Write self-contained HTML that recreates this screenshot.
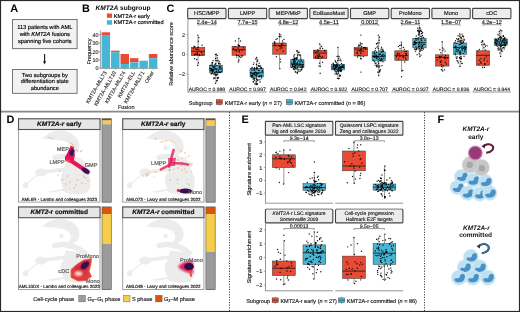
<!DOCTYPE html><html><head><meta charset="utf-8"><style>html,body{margin:0;padding:0;background:#fff;}svg{display:block;will-change:transform;filter:blur(0.25px);text-rendering:geometricPrecision;}</style></head><body>
<svg width="520" height="312" viewBox="0 0 520 312" font-family='"Liberation Sans", sans-serif'>
<defs><filter id="bl1" x="-20%" y="-20%" width="140%" height="140%"><feGaussianBlur stdDeviation="0.8"/></filter><filter id="bl2" x="-20%" y="-20%" width="140%" height="140%"><feGaussianBlur stdDeviation="1.5"/></filter><filter id="bl05" x="-20%" y="-20%" width="140%" height="140%"><feGaussianBlur stdDeviation="0.5"/></filter></defs>
<rect x="0.00" y="0.00" width="520.00" height="312.00" fill="#fff" stroke="none" stroke-width="0.5" rx="0" />
<text x="10.20" y="11.90" font-size="10.9" text-anchor="start" font-weight="bold" font-style="normal" fill="#000" >A</text>
<rect x="12.60" y="19.50" width="64.50" height="29.20" fill="#f2f2f2" stroke="#555" stroke-width="0.8" rx="0" />
<text x="44.80" y="29.00" font-size="5.7" text-anchor="middle" font-weight="normal" font-style="normal" fill="#000" stroke="#000" stroke-width="0.15" >113 patients with AML</text>
<text x="44.80" y="35.90" font-size="5.7" text-anchor="middle" font-weight="normal" font-style="normal" fill="#000" stroke="#000" stroke-width="0.15" >with <tspan font-style="italic">KMT2A</tspan> fusions</text>
<text x="44.80" y="42.80" font-size="5.7" text-anchor="middle" font-weight="normal" font-style="normal" fill="#000" stroke="#000" stroke-width="0.15" >spanning five cohorts</text>
<line x1="44.60" y1="54.00" x2="44.60" y2="62.00" stroke="#111" stroke-width="1.1" />
<path d="M43.1,61.3 L44.6,64.6 L46.1,61.3 Z" fill="#111"/>
<rect x="12.60" y="69.50" width="64.50" height="23.80" fill="#f2f2f2" stroke="#555" stroke-width="0.8" rx="0" />
<text x="44.80" y="76.60" font-size="5.7" text-anchor="middle" font-weight="normal" font-style="normal" fill="#000" stroke="#000" stroke-width="0.15" >Two subgroups by</text>
<text x="44.80" y="83.20" font-size="5.7" text-anchor="middle" font-weight="normal" font-style="normal" fill="#000" stroke="#000" stroke-width="0.15" >differentiation state</text>
<text x="44.80" y="89.90" font-size="5.7" text-anchor="middle" font-weight="normal" font-style="normal" fill="#000" stroke="#000" stroke-width="0.15" >abundance</text>
<text x="82.00" y="12.00" font-size="10.9" text-anchor="start" font-weight="bold" font-style="normal" fill="#000" >B</text>
<text x="95.60" y="10.30" font-size="6.58" text-anchor="start" font-weight="bold" font-style="normal" fill="#000" ><tspan font-style="italic">KMT2A</tspan> subgroup</text>
<rect x="106.90" y="13.50" width="5.20" height="4.30" fill="#e84a33" stroke="none" stroke-width="0.5" rx="0" />
<text x="113.70" y="17.60" font-size="5.62" text-anchor="start" font-weight="normal" font-style="normal" fill="#000" stroke="#000" stroke-width="0.15" >KMT2A-r early</text>
<rect x="106.90" y="20.20" width="5.20" height="4.50" fill="#46b6d4" stroke="none" stroke-width="0.5" rx="0" />
<text x="113.70" y="24.30" font-size="5.62" text-anchor="start" font-weight="normal" font-style="normal" fill="#000" stroke="#000" stroke-width="0.15" >KMT2A-r committed</text>
<line x1="100.40" y1="30.50" x2="100.40" y2="68.60" stroke="#777" stroke-width="0.7" />
<line x1="100.40" y1="68.40" x2="158.00" y2="68.40" stroke="#777" stroke-width="0.7" />
<line x1="99.00" y1="68.20" x2="100.40" y2="68.20" stroke="#777" stroke-width="0.6" />
<text x="98.60" y="70.20" font-size="5.5" text-anchor="end" font-weight="normal" font-style="normal" fill="#333" stroke="#333" stroke-width="0.15" >0</text>
<line x1="99.00" y1="59.85" x2="100.40" y2="59.85" stroke="#777" stroke-width="0.6" />
<text x="98.60" y="61.85" font-size="5.5" text-anchor="end" font-weight="normal" font-style="normal" fill="#333" stroke="#333" stroke-width="0.15" >10</text>
<line x1="99.00" y1="51.50" x2="100.40" y2="51.50" stroke="#777" stroke-width="0.6" />
<text x="98.60" y="53.50" font-size="5.5" text-anchor="end" font-weight="normal" font-style="normal" fill="#333" stroke="#333" stroke-width="0.15" >20</text>
<line x1="99.00" y1="43.15" x2="100.40" y2="43.15" stroke="#777" stroke-width="0.6" />
<text x="98.60" y="45.15" font-size="5.5" text-anchor="end" font-weight="normal" font-style="normal" fill="#333" stroke="#333" stroke-width="0.15" >30</text>
<line x1="99.00" y1="34.80" x2="100.40" y2="34.80" stroke="#777" stroke-width="0.6" />
<text x="98.60" y="36.80" font-size="5.5" text-anchor="end" font-weight="normal" font-style="normal" fill="#333" stroke="#333" stroke-width="0.15" >40</text>
<rect x="101.60" y="32.30" width="8.50" height="3.34" fill="#e84a33" stroke="none" stroke-width="0.5" rx="0" />
<rect x="101.60" y="35.64" width="8.50" height="32.56" fill="#46b6d4" stroke="none" stroke-width="0.5" rx="0" />
<line x1="105.85" y1="68.60" x2="105.85" y2="69.80" stroke="#777" stroke-width="0.6" />
<text x="106.85" y="72.60" font-size="5.2" text-anchor="end" font-weight="normal" font-style="normal" fill="#333" stroke="#333" stroke-width="0.15" transform="rotate(-60 106.85 72.60)">KMT2A–MLLT3</text>
<rect x="111.05" y="50.67" width="8.50" height="1.67" fill="#e84a33" stroke="none" stroke-width="0.5" rx="0" />
<rect x="111.05" y="52.34" width="8.50" height="15.86" fill="#46b6d4" stroke="none" stroke-width="0.5" rx="0" />
<line x1="115.30" y1="68.60" x2="115.30" y2="69.80" stroke="#777" stroke-width="0.6" />
<text x="116.30" y="72.60" font-size="5.2" text-anchor="end" font-weight="normal" font-style="normal" fill="#333" stroke="#333" stroke-width="0.15" transform="rotate(-60 116.30 72.60)">KMT2A–MLLT10</text>
<rect x="120.50" y="54.01" width="8.50" height="10.02" fill="#e84a33" stroke="none" stroke-width="0.5" rx="0" />
<rect x="120.50" y="64.03" width="8.50" height="4.17" fill="#46b6d4" stroke="none" stroke-width="0.5" rx="0" />
<line x1="124.75" y1="68.60" x2="124.75" y2="69.80" stroke="#777" stroke-width="0.6" />
<text x="125.75" y="72.60" font-size="5.2" text-anchor="end" font-weight="normal" font-style="normal" fill="#333" stroke="#333" stroke-width="0.15" transform="rotate(-60 125.75 72.60)">KMT2A–MLLT4</text>
<rect x="129.95" y="58.18" width="8.50" height="4.17" fill="#e84a33" stroke="none" stroke-width="0.5" rx="0" />
<rect x="129.95" y="62.36" width="8.50" height="5.84" fill="#46b6d4" stroke="none" stroke-width="0.5" rx="0" />
<line x1="134.20" y1="68.60" x2="134.20" y2="69.80" stroke="#777" stroke-width="0.6" />
<text x="135.20" y="72.60" font-size="5.2" text-anchor="end" font-weight="normal" font-style="normal" fill="#333" stroke="#333" stroke-width="0.15" transform="rotate(-60 135.20 72.60)">KMT2A–ELL</text>
<rect x="139.40" y="60.69" width="8.50" height="0.00" fill="#e84a33" stroke="none" stroke-width="0.5" rx="0" />
<rect x="139.40" y="60.69" width="8.50" height="7.51" fill="#46b6d4" stroke="none" stroke-width="0.5" rx="0" />
<line x1="143.65" y1="68.60" x2="143.65" y2="69.80" stroke="#777" stroke-width="0.6" />
<text x="144.65" y="72.60" font-size="5.2" text-anchor="end" font-weight="normal" font-style="normal" fill="#333" stroke="#333" stroke-width="0.15" transform="rotate(-60 144.65 72.60)">KMT2A–MLLT1</text>
<rect x="148.85" y="54.01" width="8.50" height="4.17" fill="#e84a33" stroke="none" stroke-width="0.5" rx="0" />
<rect x="148.85" y="58.18" width="8.50" height="10.02" fill="#46b6d4" stroke="none" stroke-width="0.5" rx="0" />
<line x1="153.10" y1="68.60" x2="153.10" y2="69.80" stroke="#777" stroke-width="0.6" />
<text x="154.10" y="72.60" font-size="5.2" text-anchor="end" font-weight="normal" font-style="normal" fill="#333" stroke="#333" stroke-width="0.15" transform="rotate(-60 154.10 72.60)">Other</text>
<text x="89.30" y="51.40" font-size="5.5" text-anchor="middle" font-weight="normal" font-style="normal" fill="#222" stroke="#222" stroke-width="0.15" transform="rotate(-90 89.3 51.4)" dy="1.9">Frequency</text>
<text x="126.20" y="109.40" font-size="5.5" text-anchor="middle" font-weight="normal" font-style="normal" fill="#222" stroke="#222" stroke-width="0.15" >Fusion</text>
<text x="166.60" y="12.00" font-size="10.9" text-anchor="start" font-weight="bold" font-style="normal" fill="#000" >C</text>
<line x1="187.90" y1="18.80" x2="187.90" y2="92.20" stroke="#888" stroke-width="0.9" />
<line x1="186.30" y1="34.60" x2="187.90" y2="34.60" stroke="#777" stroke-width="0.6" />
<text x="185.00" y="36.60" font-size="5.5" text-anchor="end" font-weight="normal" font-style="normal" fill="#333" stroke="#333" stroke-width="0.15" >2</text>
<line x1="186.30" y1="54.30" x2="187.90" y2="54.30" stroke="#777" stroke-width="0.6" />
<text x="185.00" y="56.30" font-size="5.5" text-anchor="end" font-weight="normal" font-style="normal" fill="#333" stroke="#333" stroke-width="0.15" >0</text>
<line x1="186.30" y1="74.00" x2="187.90" y2="74.00" stroke="#777" stroke-width="0.6" />
<text x="185.00" y="76.00" font-size="5.5" text-anchor="end" font-weight="normal" font-style="normal" fill="#333" stroke="#333" stroke-width="0.15" >−2</text>
<text x="171.60" y="54.00" font-size="5.5" text-anchor="middle" font-weight="normal" font-style="normal" fill="#222" stroke="#222" stroke-width="0.15" transform="rotate(-90 171.6 54.0)" dy="1.9">Relative abundance score</text>
<rect x="187.70" y="8.35" width="38.30" height="10.30" fill="#ececec" stroke="#444" stroke-width="1.1" rx="0.8" />
<text x="206.85" y="15.40" font-size="5.6" text-anchor="middle" font-weight="normal" font-style="normal" fill="#222" stroke="#222" stroke-width="0.15" >HSC/MPP</text>
<text x="206.85" y="23.90" font-size="5.56" text-anchor="middle" font-weight="normal" font-style="normal" fill="#222" stroke="#222" stroke-width="0.15" >2.4e−14</text>
<path d="M198.05,25.9 L198.05,24.7 L215.95,24.7 L215.95,25.9" fill="none" stroke="#333" stroke-width="0.5"/>
<line x1="198.05" y1="35.10" x2="198.05" y2="65.40" stroke="#333" stroke-width="0.5" />
<rect x="191.30" y="47.40" width="13.50" height="8.30" fill="#e84a33" stroke="#333" stroke-width="0.5" rx="0" />
<line x1="191.30" y1="51.30" x2="204.80" y2="51.30" stroke="#222" stroke-width="0.9" />
<g fill="#000" fill-opacity="0.9"><circle cx="197.84" cy="35.10" r="0.7"/><circle cx="197.63" cy="65.40" r="0.7"/><circle cx="198.43" cy="49.77" r="0.7"/><circle cx="196.64" cy="49.17" r="0.7"/><circle cx="194.63" cy="58.82" r="0.7"/><circle cx="197.37" cy="54.17" r="0.7"/><circle cx="197.27" cy="53.97" r="0.7"/><circle cx="201.54" cy="52.55" r="0.7"/><circle cx="199.32" cy="54.72" r="0.7"/><circle cx="202.52" cy="54.67" r="0.7"/><circle cx="202.08" cy="45.28" r="0.7"/><circle cx="193.48" cy="48.13" r="0.7"/><circle cx="194.52" cy="54.82" r="0.7"/><circle cx="194.42" cy="46.96" r="0.7"/><circle cx="195.04" cy="46.83" r="0.7"/><circle cx="198.43" cy="62.92" r="0.7"/><circle cx="198.51" cy="47.10" r="0.7"/><circle cx="194.07" cy="46.30" r="0.7"/><circle cx="199.77" cy="55.57" r="0.7"/><circle cx="197.28" cy="52.98" r="0.7"/><circle cx="197.59" cy="47.78" r="0.7"/><circle cx="196.67" cy="59.56" r="0.7"/><circle cx="195.44" cy="54.18" r="0.7"/><circle cx="198.47" cy="41.22" r="0.7"/><circle cx="198.86" cy="37.68" r="0.7"/><circle cx="195.83" cy="49.13" r="0.7"/><circle cx="197.23" cy="54.66" r="0.7"/></g>
<line x1="215.95" y1="54.20" x2="215.95" y2="83.30" stroke="#333" stroke-width="0.5" />
<rect x="209.30" y="65.40" width="13.30" height="7.20" fill="#46b6d4" stroke="#333" stroke-width="0.5" rx="0" />
<line x1="209.30" y1="69.20" x2="222.60" y2="69.20" stroke="#222" stroke-width="0.9" />
<g fill="#000" fill-opacity="0.9"><circle cx="216.26" cy="54.20" r="0.7"/><circle cx="215.53" cy="83.30" r="0.7"/><circle cx="215.82" cy="68.83" r="0.7"/><circle cx="217.66" cy="77.65" r="0.7"/><circle cx="216.79" cy="71.33" r="0.7"/><circle cx="218.03" cy="72.81" r="0.7"/><circle cx="216.95" cy="65.61" r="0.7"/><circle cx="219.00" cy="63.52" r="0.7"/><circle cx="220.82" cy="66.08" r="0.7"/><circle cx="213.16" cy="60.65" r="0.7"/><circle cx="218.32" cy="70.60" r="0.7"/><circle cx="217.34" cy="58.05" r="0.7"/><circle cx="215.41" cy="54.43" r="0.7"/><circle cx="212.05" cy="62.63" r="0.7"/><circle cx="215.61" cy="74.93" r="0.7"/><circle cx="210.77" cy="70.64" r="0.7"/><circle cx="218.98" cy="71.75" r="0.7"/><circle cx="214.75" cy="72.24" r="0.7"/><circle cx="220.00" cy="72.41" r="0.7"/><circle cx="216.40" cy="74.80" r="0.7"/><circle cx="220.15" cy="72.31" r="0.7"/><circle cx="213.82" cy="74.14" r="0.7"/><circle cx="215.55" cy="58.57" r="0.7"/><circle cx="219.21" cy="61.51" r="0.7"/><circle cx="213.99" cy="78.65" r="0.7"/><circle cx="212.86" cy="71.11" r="0.7"/><circle cx="215.79" cy="73.01" r="0.7"/><circle cx="210.77" cy="65.32" r="0.7"/><circle cx="215.03" cy="66.77" r="0.7"/><circle cx="220.22" cy="64.03" r="0.7"/><circle cx="217.68" cy="74.75" r="0.7"/><circle cx="217.14" cy="61.10" r="0.7"/><circle cx="210.64" cy="68.41" r="0.7"/><circle cx="218.43" cy="77.44" r="0.7"/><circle cx="218.53" cy="63.18" r="0.7"/><circle cx="212.03" cy="64.58" r="0.7"/><circle cx="217.37" cy="72.90" r="0.7"/><circle cx="212.59" cy="71.23" r="0.7"/><circle cx="211.93" cy="70.04" r="0.7"/><circle cx="210.03" cy="68.17" r="0.7"/><circle cx="211.88" cy="70.83" r="0.7"/><circle cx="211.21" cy="73.68" r="0.7"/><circle cx="220.00" cy="72.52" r="0.7"/><circle cx="213.15" cy="66.69" r="0.7"/><circle cx="214.20" cy="67.01" r="0.7"/><circle cx="219.98" cy="67.23" r="0.7"/><circle cx="221.58" cy="71.46" r="0.7"/><circle cx="212.58" cy="62.61" r="0.7"/><circle cx="211.28" cy="70.63" r="0.7"/><circle cx="219.66" cy="66.67" r="0.7"/><circle cx="212.41" cy="73.04" r="0.7"/><circle cx="216.28" cy="71.28" r="0.7"/><circle cx="211.21" cy="73.64" r="0.7"/><circle cx="216.20" cy="75.05" r="0.7"/><circle cx="216.74" cy="80.80" r="0.7"/><circle cx="213.15" cy="67.62" r="0.7"/><circle cx="219.04" cy="66.83" r="0.7"/><circle cx="216.32" cy="71.84" r="0.7"/><circle cx="212.66" cy="70.15" r="0.7"/><circle cx="218.89" cy="64.04" r="0.7"/><circle cx="217.22" cy="80.63" r="0.7"/><circle cx="219.72" cy="68.11" r="0.7"/><circle cx="216.16" cy="68.93" r="0.7"/><circle cx="214.48" cy="65.00" r="0.7"/><circle cx="213.35" cy="70.57" r="0.7"/><circle cx="213.07" cy="69.45" r="0.7"/><circle cx="215.45" cy="64.01" r="0.7"/><circle cx="217.22" cy="55.46" r="0.7"/><circle cx="214.35" cy="68.10" r="0.7"/><circle cx="212.34" cy="69.98" r="0.7"/><circle cx="212.92" cy="73.34" r="0.7"/><circle cx="217.99" cy="60.24" r="0.7"/><circle cx="215.82" cy="60.34" r="0.7"/><circle cx="212.35" cy="63.18" r="0.7"/><circle cx="216.96" cy="60.58" r="0.7"/><circle cx="217.52" cy="77.84" r="0.7"/><circle cx="215.75" cy="63.70" r="0.7"/><circle cx="214.28" cy="73.69" r="0.7"/><circle cx="217.66" cy="78.52" r="0.7"/><circle cx="215.08" cy="75.00" r="0.7"/><circle cx="221.25" cy="68.16" r="0.7"/><circle cx="211.50" cy="68.64" r="0.7"/><circle cx="212.22" cy="65.66" r="0.7"/><circle cx="213.77" cy="77.99" r="0.7"/><circle cx="218.79" cy="63.22" r="0.7"/><circle cx="214.99" cy="77.72" r="0.7"/></g>
<line x1="187.60" y1="92.00" x2="226.10" y2="92.00" stroke="#888" stroke-width="0.9" />
<text x="206.85" y="90.90" font-size="5.03" text-anchor="middle" font-weight="normal" font-style="normal" fill="#222" stroke="#222" stroke-width="0.15" >AUROC = 0.988</text>
<rect x="228.40" y="8.35" width="38.30" height="10.30" fill="#ececec" stroke="#444" stroke-width="1.1" rx="0.8" />
<text x="247.55" y="15.40" font-size="5.6" text-anchor="middle" font-weight="normal" font-style="normal" fill="#222" stroke="#222" stroke-width="0.15" >LMPP</text>
<text x="247.55" y="23.90" font-size="5.56" text-anchor="middle" font-weight="normal" font-style="normal" fill="#222" stroke="#222" stroke-width="0.15" >7.7e−15</text>
<path d="M238.75,25.9 L238.75,24.7 L256.65,24.7 L256.65,25.9" fill="none" stroke="#333" stroke-width="0.5"/>
<line x1="238.75" y1="38.50" x2="238.75" y2="62.00" stroke="#333" stroke-width="0.5" />
<rect x="232.00" y="46.30" width="13.50" height="9.00" fill="#e84a33" stroke="#333" stroke-width="0.5" rx="0" />
<line x1="232.00" y1="49.70" x2="245.50" y2="49.70" stroke="#222" stroke-width="0.9" />
<g fill="#000" fill-opacity="0.9"><circle cx="238.81" cy="38.50" r="0.7"/><circle cx="238.31" cy="62.00" r="0.7"/><circle cx="233.56" cy="48.38" r="0.7"/><circle cx="238.91" cy="60.14" r="0.7"/><circle cx="243.33" cy="47.77" r="0.7"/><circle cx="241.61" cy="55.70" r="0.7"/><circle cx="236.54" cy="51.05" r="0.7"/><circle cx="236.39" cy="55.12" r="0.7"/><circle cx="237.99" cy="44.83" r="0.7"/><circle cx="234.96" cy="46.76" r="0.7"/><circle cx="238.38" cy="55.49" r="0.7"/><circle cx="239.58" cy="46.03" r="0.7"/><circle cx="242.34" cy="56.02" r="0.7"/><circle cx="238.77" cy="45.37" r="0.7"/><circle cx="235.38" cy="40.95" r="0.7"/><circle cx="238.12" cy="47.93" r="0.7"/><circle cx="241.98" cy="49.97" r="0.7"/><circle cx="235.22" cy="50.29" r="0.7"/><circle cx="239.35" cy="51.65" r="0.7"/><circle cx="239.29" cy="45.63" r="0.7"/><circle cx="240.91" cy="57.57" r="0.7"/><circle cx="236.76" cy="57.09" r="0.7"/><circle cx="236.77" cy="55.51" r="0.7"/><circle cx="239.41" cy="50.92" r="0.7"/><circle cx="240.59" cy="41.05" r="0.7"/><circle cx="239.68" cy="56.47" r="0.7"/><circle cx="238.80" cy="45.55" r="0.7"/></g>
<line x1="256.65" y1="57.50" x2="256.65" y2="84.50" stroke="#333" stroke-width="0.5" />
<rect x="250.00" y="68.30" width="13.30" height="8.70" fill="#46b6d4" stroke="#333" stroke-width="0.5" rx="0" />
<line x1="250.00" y1="72.80" x2="263.30" y2="72.80" stroke="#222" stroke-width="0.9" />
<g fill="#000" fill-opacity="0.9"><circle cx="256.66" cy="57.50" r="0.7"/><circle cx="256.88" cy="84.50" r="0.7"/><circle cx="256.48" cy="64.44" r="0.7"/><circle cx="261.72" cy="75.38" r="0.7"/><circle cx="261.30" cy="68.25" r="0.7"/><circle cx="255.65" cy="59.03" r="0.7"/><circle cx="259.86" cy="66.60" r="0.7"/><circle cx="255.98" cy="75.15" r="0.7"/><circle cx="251.77" cy="75.54" r="0.7"/><circle cx="258.68" cy="72.96" r="0.7"/><circle cx="259.89" cy="75.56" r="0.7"/><circle cx="259.07" cy="76.08" r="0.7"/><circle cx="258.50" cy="70.32" r="0.7"/><circle cx="260.04" cy="81.94" r="0.7"/><circle cx="255.09" cy="84.28" r="0.7"/><circle cx="256.54" cy="79.63" r="0.7"/><circle cx="262.35" cy="70.70" r="0.7"/><circle cx="255.85" cy="74.88" r="0.7"/><circle cx="256.82" cy="69.14" r="0.7"/><circle cx="254.56" cy="70.31" r="0.7"/><circle cx="259.06" cy="76.76" r="0.7"/><circle cx="256.21" cy="81.74" r="0.7"/><circle cx="250.93" cy="73.90" r="0.7"/><circle cx="256.78" cy="67.94" r="0.7"/><circle cx="253.33" cy="81.44" r="0.7"/><circle cx="262.25" cy="71.63" r="0.7"/><circle cx="251.77" cy="77.21" r="0.7"/><circle cx="259.76" cy="76.21" r="0.7"/><circle cx="255.72" cy="72.32" r="0.7"/><circle cx="261.17" cy="76.50" r="0.7"/><circle cx="252.59" cy="75.10" r="0.7"/><circle cx="260.95" cy="67.82" r="0.7"/><circle cx="253.92" cy="62.86" r="0.7"/><circle cx="252.04" cy="68.08" r="0.7"/><circle cx="251.78" cy="69.98" r="0.7"/><circle cx="260.57" cy="65.89" r="0.7"/><circle cx="253.42" cy="64.33" r="0.7"/><circle cx="259.13" cy="63.27" r="0.7"/><circle cx="256.20" cy="78.54" r="0.7"/><circle cx="261.08" cy="68.02" r="0.7"/><circle cx="254.70" cy="80.42" r="0.7"/><circle cx="254.14" cy="78.77" r="0.7"/><circle cx="252.99" cy="79.09" r="0.7"/><circle cx="253.11" cy="74.00" r="0.7"/><circle cx="254.45" cy="74.74" r="0.7"/><circle cx="254.38" cy="68.75" r="0.7"/><circle cx="256.65" cy="84.06" r="0.7"/><circle cx="251.17" cy="75.66" r="0.7"/><circle cx="254.24" cy="78.68" r="0.7"/><circle cx="256.93" cy="84.27" r="0.7"/><circle cx="252.96" cy="73.91" r="0.7"/><circle cx="252.13" cy="75.41" r="0.7"/><circle cx="256.59" cy="75.96" r="0.7"/><circle cx="259.65" cy="65.95" r="0.7"/><circle cx="258.37" cy="66.20" r="0.7"/><circle cx="261.52" cy="78.04" r="0.7"/><circle cx="258.43" cy="65.43" r="0.7"/><circle cx="257.43" cy="83.99" r="0.7"/><circle cx="252.20" cy="67.39" r="0.7"/><circle cx="252.58" cy="76.49" r="0.7"/><circle cx="255.13" cy="83.32" r="0.7"/><circle cx="253.20" cy="77.81" r="0.7"/><circle cx="259.97" cy="79.69" r="0.7"/><circle cx="253.71" cy="70.04" r="0.7"/><circle cx="254.54" cy="67.73" r="0.7"/><circle cx="256.06" cy="68.78" r="0.7"/><circle cx="253.84" cy="73.85" r="0.7"/><circle cx="257.15" cy="68.28" r="0.7"/><circle cx="254.38" cy="73.44" r="0.7"/><circle cx="255.23" cy="72.60" r="0.7"/><circle cx="256.35" cy="73.06" r="0.7"/><circle cx="256.70" cy="68.05" r="0.7"/><circle cx="250.72" cy="72.72" r="0.7"/><circle cx="255.45" cy="72.53" r="0.7"/><circle cx="251.48" cy="75.86" r="0.7"/><circle cx="254.08" cy="78.78" r="0.7"/><circle cx="257.67" cy="73.65" r="0.7"/><circle cx="257.51" cy="61.19" r="0.7"/><circle cx="259.16" cy="70.65" r="0.7"/><circle cx="254.88" cy="77.91" r="0.7"/><circle cx="261.66" cy="67.95" r="0.7"/><circle cx="257.95" cy="79.52" r="0.7"/><circle cx="253.36" cy="81.98" r="0.7"/><circle cx="257.72" cy="80.44" r="0.7"/><circle cx="257.74" cy="59.94" r="0.7"/><circle cx="256.93" cy="74.28" r="0.7"/></g>
<line x1="228.30" y1="92.00" x2="266.80" y2="92.00" stroke="#888" stroke-width="0.9" />
<text x="247.55" y="90.90" font-size="5.03" text-anchor="middle" font-weight="normal" font-style="normal" fill="#222" stroke="#222" stroke-width="0.15" >AUROC = 0.997</text>
<rect x="269.10" y="8.35" width="38.30" height="10.30" fill="#ececec" stroke="#444" stroke-width="1.1" rx="0.8" />
<text x="288.25" y="15.40" font-size="5.6" text-anchor="middle" font-weight="normal" font-style="normal" fill="#222" stroke="#222" stroke-width="0.15" >MEP/MkP</text>
<text x="288.25" y="23.90" font-size="5.56" text-anchor="middle" font-weight="normal" font-style="normal" fill="#222" stroke="#222" stroke-width="0.15" >4.8e−12</text>
<path d="M279.45,25.9 L279.45,24.7 L297.35,24.7 L297.35,25.9" fill="none" stroke="#333" stroke-width="0.5"/>
<line x1="279.45" y1="34.00" x2="279.45" y2="68.70" stroke="#333" stroke-width="0.5" />
<rect x="272.70" y="43.00" width="13.50" height="11.20" fill="#e84a33" stroke="#333" stroke-width="0.5" rx="0" />
<line x1="272.70" y1="45.60" x2="286.20" y2="45.60" stroke="#222" stroke-width="0.9" />
<g fill="#000" fill-opacity="0.9"><circle cx="279.46" cy="34.00" r="0.7"/><circle cx="279.85" cy="68.70" r="0.7"/><circle cx="282.49" cy="40.98" r="0.7"/><circle cx="283.22" cy="51.18" r="0.7"/><circle cx="280.75" cy="34.88" r="0.7"/><circle cx="274.49" cy="43.30" r="0.7"/><circle cx="276.02" cy="39.42" r="0.7"/><circle cx="282.97" cy="42.85" r="0.7"/><circle cx="280.06" cy="48.90" r="0.7"/><circle cx="280.91" cy="36.71" r="0.7"/><circle cx="279.37" cy="36.39" r="0.7"/><circle cx="280.52" cy="61.91" r="0.7"/><circle cx="279.48" cy="45.94" r="0.7"/><circle cx="274.91" cy="42.66" r="0.7"/><circle cx="274.86" cy="45.02" r="0.7"/><circle cx="277.33" cy="38.67" r="0.7"/><circle cx="282.03" cy="44.80" r="0.7"/><circle cx="283.91" cy="39.47" r="0.7"/><circle cx="279.28" cy="36.64" r="0.7"/><circle cx="281.43" cy="45.94" r="0.7"/><circle cx="280.98" cy="46.95" r="0.7"/><circle cx="276.99" cy="50.16" r="0.7"/><circle cx="282.02" cy="48.01" r="0.7"/><circle cx="274.49" cy="41.64" r="0.7"/><circle cx="276.43" cy="56.74" r="0.7"/><circle cx="281.51" cy="44.00" r="0.7"/><circle cx="280.44" cy="59.13" r="0.7"/></g>
<line x1="297.35" y1="50.80" x2="297.35" y2="73.20" stroke="#333" stroke-width="0.5" />
<rect x="290.70" y="59.80" width="13.30" height="7.80" fill="#46b6d4" stroke="#333" stroke-width="0.5" rx="0" />
<line x1="290.70" y1="64.30" x2="304.00" y2="64.30" stroke="#222" stroke-width="0.9" />
<g fill="#000" fill-opacity="0.9"><circle cx="297.10" cy="50.80" r="0.7"/><circle cx="297.37" cy="73.20" r="0.7"/><circle cx="294.18" cy="57.35" r="0.7"/><circle cx="301.97" cy="65.87" r="0.7"/><circle cx="301.49" cy="69.81" r="0.7"/><circle cx="299.99" cy="71.30" r="0.7"/><circle cx="302.93" cy="65.07" r="0.7"/><circle cx="294.44" cy="59.52" r="0.7"/><circle cx="302.58" cy="65.87" r="0.7"/><circle cx="293.20" cy="66.35" r="0.7"/><circle cx="297.53" cy="72.43" r="0.7"/><circle cx="300.88" cy="67.54" r="0.7"/><circle cx="297.45" cy="63.31" r="0.7"/><circle cx="295.25" cy="71.81" r="0.7"/><circle cx="300.81" cy="57.84" r="0.7"/><circle cx="291.50" cy="62.88" r="0.7"/><circle cx="297.25" cy="64.42" r="0.7"/><circle cx="293.84" cy="59.17" r="0.7"/><circle cx="295.52" cy="65.94" r="0.7"/><circle cx="292.40" cy="59.39" r="0.7"/><circle cx="292.80" cy="64.36" r="0.7"/><circle cx="299.18" cy="52.15" r="0.7"/><circle cx="295.02" cy="61.15" r="0.7"/><circle cx="296.89" cy="50.98" r="0.7"/><circle cx="296.64" cy="59.21" r="0.7"/><circle cx="294.86" cy="61.10" r="0.7"/><circle cx="301.12" cy="67.11" r="0.7"/><circle cx="294.80" cy="65.18" r="0.7"/><circle cx="294.94" cy="68.72" r="0.7"/><circle cx="297.48" cy="62.40" r="0.7"/><circle cx="302.60" cy="66.57" r="0.7"/><circle cx="300.93" cy="70.01" r="0.7"/><circle cx="301.87" cy="67.71" r="0.7"/><circle cx="300.50" cy="56.00" r="0.7"/><circle cx="294.63" cy="54.65" r="0.7"/><circle cx="299.93" cy="61.21" r="0.7"/><circle cx="298.17" cy="54.18" r="0.7"/><circle cx="294.99" cy="67.53" r="0.7"/><circle cx="293.51" cy="68.70" r="0.7"/><circle cx="295.47" cy="58.56" r="0.7"/><circle cx="300.19" cy="65.31" r="0.7"/><circle cx="298.90" cy="69.18" r="0.7"/><circle cx="294.98" cy="63.57" r="0.7"/><circle cx="294.31" cy="58.34" r="0.7"/><circle cx="293.46" cy="62.06" r="0.7"/><circle cx="297.32" cy="67.92" r="0.7"/><circle cx="302.99" cy="66.89" r="0.7"/><circle cx="293.97" cy="60.99" r="0.7"/><circle cx="292.50" cy="65.38" r="0.7"/><circle cx="294.28" cy="62.78" r="0.7"/><circle cx="294.58" cy="66.63" r="0.7"/><circle cx="298.44" cy="52.27" r="0.7"/><circle cx="296.53" cy="58.68" r="0.7"/><circle cx="296.30" cy="57.66" r="0.7"/><circle cx="295.64" cy="68.29" r="0.7"/><circle cx="302.06" cy="69.04" r="0.7"/><circle cx="293.00" cy="66.25" r="0.7"/><circle cx="299.75" cy="55.34" r="0.7"/><circle cx="293.95" cy="64.11" r="0.7"/><circle cx="296.15" cy="63.67" r="0.7"/><circle cx="296.81" cy="69.06" r="0.7"/><circle cx="301.40" cy="60.78" r="0.7"/><circle cx="299.81" cy="65.91" r="0.7"/><circle cx="302.08" cy="64.52" r="0.7"/><circle cx="293.79" cy="55.96" r="0.7"/><circle cx="296.07" cy="65.71" r="0.7"/><circle cx="300.79" cy="59.03" r="0.7"/><circle cx="293.41" cy="69.03" r="0.7"/><circle cx="293.24" cy="63.47" r="0.7"/><circle cx="300.06" cy="54.77" r="0.7"/><circle cx="299.97" cy="62.95" r="0.7"/><circle cx="296.98" cy="57.80" r="0.7"/><circle cx="297.70" cy="55.66" r="0.7"/><circle cx="294.33" cy="67.03" r="0.7"/><circle cx="295.90" cy="72.32" r="0.7"/><circle cx="293.52" cy="59.89" r="0.7"/><circle cx="299.73" cy="64.20" r="0.7"/><circle cx="297.63" cy="66.15" r="0.7"/><circle cx="298.32" cy="65.87" r="0.7"/><circle cx="298.45" cy="60.85" r="0.7"/><circle cx="291.87" cy="67.22" r="0.7"/><circle cx="302.63" cy="62.05" r="0.7"/><circle cx="298.58" cy="71.00" r="0.7"/><circle cx="294.81" cy="69.68" r="0.7"/><circle cx="294.82" cy="59.48" r="0.7"/><circle cx="295.15" cy="61.87" r="0.7"/></g>
<line x1="269.00" y1="92.00" x2="307.50" y2="92.00" stroke="#888" stroke-width="0.9" />
<text x="288.25" y="90.90" font-size="5.03" text-anchor="middle" font-weight="normal" font-style="normal" fill="#222" stroke="#222" stroke-width="0.15" >AUROC = 0.942</text>
<rect x="309.80" y="8.35" width="38.30" height="10.30" fill="#ececec" stroke="#444" stroke-width="1.1" rx="0.8" />
<text x="328.95" y="15.40" font-size="5.6" text-anchor="middle" font-weight="normal" font-style="normal" fill="#222" stroke="#222" stroke-width="0.15" >EoBasoMast</text>
<text x="328.95" y="23.90" font-size="5.56" text-anchor="middle" font-weight="normal" font-style="normal" fill="#222" stroke="#222" stroke-width="0.15" >4.5e−11</text>
<path d="M320.15,25.9 L320.15,24.7 L338.05,24.7 L338.05,25.9" fill="none" stroke="#333" stroke-width="0.5"/>
<line x1="320.15" y1="44.00" x2="320.15" y2="66.50" stroke="#333" stroke-width="0.5" />
<rect x="313.40" y="50.10" width="13.50" height="8.60" fill="#e84a33" stroke="#333" stroke-width="0.5" rx="0" />
<line x1="313.40" y1="53.00" x2="326.90" y2="53.00" stroke="#222" stroke-width="0.9" />
<g fill="#000" fill-opacity="0.9"><circle cx="319.58" cy="44.00" r="0.7"/><circle cx="320.15" cy="66.50" r="0.7"/><circle cx="317.71" cy="49.66" r="0.7"/><circle cx="321.54" cy="46.49" r="0.7"/><circle cx="315.72" cy="57.48" r="0.7"/><circle cx="318.46" cy="50.72" r="0.7"/><circle cx="317.38" cy="58.08" r="0.7"/><circle cx="320.20" cy="56.35" r="0.7"/><circle cx="318.43" cy="58.15" r="0.7"/><circle cx="317.23" cy="55.16" r="0.7"/><circle cx="322.61" cy="48.41" r="0.7"/><circle cx="320.11" cy="48.19" r="0.7"/><circle cx="319.27" cy="54.91" r="0.7"/><circle cx="321.71" cy="57.60" r="0.7"/><circle cx="319.10" cy="56.74" r="0.7"/><circle cx="317.08" cy="51.75" r="0.7"/><circle cx="315.74" cy="56.83" r="0.7"/><circle cx="315.41" cy="52.37" r="0.7"/><circle cx="322.59" cy="62.30" r="0.7"/><circle cx="324.61" cy="50.37" r="0.7"/><circle cx="324.72" cy="50.86" r="0.7"/><circle cx="322.56" cy="56.94" r="0.7"/><circle cx="319.45" cy="63.15" r="0.7"/><circle cx="318.82" cy="55.06" r="0.7"/><circle cx="314.93" cy="50.90" r="0.7"/><circle cx="317.97" cy="56.72" r="0.7"/><circle cx="318.94" cy="65.89" r="0.7"/><circle cx="320.15" cy="73.20" r="0.7"/></g>
<line x1="338.05" y1="47.40" x2="338.05" y2="78.80" stroke="#333" stroke-width="0.5" />
<rect x="331.40" y="64.30" width="13.30" height="5.60" fill="#46b6d4" stroke="#333" stroke-width="0.5" rx="0" />
<line x1="331.40" y1="67.00" x2="344.70" y2="67.00" stroke="#222" stroke-width="0.9" />
<g fill="#000" fill-opacity="0.9"><circle cx="337.88" cy="47.40" r="0.7"/><circle cx="338.44" cy="78.80" r="0.7"/><circle cx="339.56" cy="75.26" r="0.7"/><circle cx="337.74" cy="65.68" r="0.7"/><circle cx="336.53" cy="67.60" r="0.7"/><circle cx="336.58" cy="69.61" r="0.7"/><circle cx="342.65" cy="65.55" r="0.7"/><circle cx="340.78" cy="71.61" r="0.7"/><circle cx="341.20" cy="67.89" r="0.7"/><circle cx="332.92" cy="68.18" r="0.7"/><circle cx="343.07" cy="67.31" r="0.7"/><circle cx="342.81" cy="66.67" r="0.7"/><circle cx="337.18" cy="74.56" r="0.7"/><circle cx="339.40" cy="65.40" r="0.7"/><circle cx="337.44" cy="78.36" r="0.7"/><circle cx="335.39" cy="66.17" r="0.7"/><circle cx="333.31" cy="63.11" r="0.7"/><circle cx="339.65" cy="67.36" r="0.7"/><circle cx="339.48" cy="56.84" r="0.7"/><circle cx="337.80" cy="70.29" r="0.7"/><circle cx="343.50" cy="67.51" r="0.7"/><circle cx="335.79" cy="71.32" r="0.7"/><circle cx="337.23" cy="65.71" r="0.7"/><circle cx="337.09" cy="56.54" r="0.7"/><circle cx="341.66" cy="67.43" r="0.7"/><circle cx="341.30" cy="66.39" r="0.7"/><circle cx="338.53" cy="58.53" r="0.7"/><circle cx="336.48" cy="65.12" r="0.7"/><circle cx="340.85" cy="70.54" r="0.7"/><circle cx="340.77" cy="69.66" r="0.7"/><circle cx="335.12" cy="68.44" r="0.7"/><circle cx="338.67" cy="68.10" r="0.7"/><circle cx="335.97" cy="67.47" r="0.7"/><circle cx="339.88" cy="76.39" r="0.7"/><circle cx="335.29" cy="65.83" r="0.7"/><circle cx="338.03" cy="68.77" r="0.7"/><circle cx="340.52" cy="68.04" r="0.7"/><circle cx="337.19" cy="63.85" r="0.7"/><circle cx="339.46" cy="68.09" r="0.7"/><circle cx="341.52" cy="63.52" r="0.7"/><circle cx="339.08" cy="60.27" r="0.7"/><circle cx="336.66" cy="73.33" r="0.7"/><circle cx="338.52" cy="73.04" r="0.7"/><circle cx="335.63" cy="61.79" r="0.7"/><circle cx="336.06" cy="72.35" r="0.7"/><circle cx="342.65" cy="67.08" r="0.7"/><circle cx="338.89" cy="69.63" r="0.7"/><circle cx="343.56" cy="64.89" r="0.7"/><circle cx="338.12" cy="71.07" r="0.7"/><circle cx="339.86" cy="67.97" r="0.7"/><circle cx="340.36" cy="75.24" r="0.7"/><circle cx="341.01" cy="71.14" r="0.7"/><circle cx="341.58" cy="70.10" r="0.7"/><circle cx="335.63" cy="68.12" r="0.7"/><circle cx="333.52" cy="66.33" r="0.7"/><circle cx="338.78" cy="71.54" r="0.7"/><circle cx="339.16" cy="78.39" r="0.7"/><circle cx="337.71" cy="60.64" r="0.7"/><circle cx="336.50" cy="73.58" r="0.7"/><circle cx="333.58" cy="68.91" r="0.7"/><circle cx="338.32" cy="56.15" r="0.7"/><circle cx="336.60" cy="64.67" r="0.7"/><circle cx="334.06" cy="64.81" r="0.7"/><circle cx="339.22" cy="68.00" r="0.7"/><circle cx="339.58" cy="70.36" r="0.7"/><circle cx="335.98" cy="67.20" r="0.7"/><circle cx="340.17" cy="67.66" r="0.7"/><circle cx="334.63" cy="68.56" r="0.7"/><circle cx="340.96" cy="70.62" r="0.7"/><circle cx="333.45" cy="65.42" r="0.7"/><circle cx="336.80" cy="66.51" r="0.7"/><circle cx="335.24" cy="60.81" r="0.7"/><circle cx="334.26" cy="64.98" r="0.7"/><circle cx="335.55" cy="65.42" r="0.7"/><circle cx="336.32" cy="62.59" r="0.7"/><circle cx="338.69" cy="70.78" r="0.7"/><circle cx="336.37" cy="65.86" r="0.7"/><circle cx="340.56" cy="59.11" r="0.7"/><circle cx="336.85" cy="71.57" r="0.7"/><circle cx="334.80" cy="69.40" r="0.7"/><circle cx="335.08" cy="73.96" r="0.7"/><circle cx="341.11" cy="70.90" r="0.7"/><circle cx="337.05" cy="64.22" r="0.7"/><circle cx="334.78" cy="70.76" r="0.7"/><circle cx="333.17" cy="63.59" r="0.7"/><circle cx="340.87" cy="60.81" r="0.7"/></g>
<line x1="309.70" y1="92.00" x2="348.20" y2="92.00" stroke="#888" stroke-width="0.9" />
<text x="328.95" y="90.90" font-size="5.03" text-anchor="middle" font-weight="normal" font-style="normal" fill="#222" stroke="#222" stroke-width="0.15" >AUROC = 0.922</text>
<rect x="350.50" y="8.35" width="38.30" height="10.30" fill="#ececec" stroke="#444" stroke-width="1.1" rx="0.8" />
<text x="369.65" y="15.40" font-size="5.6" text-anchor="middle" font-weight="normal" font-style="normal" fill="#222" stroke="#222" stroke-width="0.15" >GMP</text>
<text x="369.65" y="23.90" font-size="5.56" text-anchor="middle" font-weight="normal" font-style="normal" fill="#222" stroke="#222" stroke-width="0.15" >0.0012</text>
<path d="M360.85,25.9 L360.85,24.7 L378.75,24.7 L378.75,25.9" fill="none" stroke="#333" stroke-width="0.5"/>
<line x1="360.85" y1="43.00" x2="360.85" y2="58.70" stroke="#333" stroke-width="0.5" />
<rect x="354.10" y="47.40" width="13.50" height="8.60" fill="#e84a33" stroke="#333" stroke-width="0.5" rx="0" />
<line x1="354.10" y1="49.00" x2="367.60" y2="49.00" stroke="#222" stroke-width="0.9" />
<g fill="#000" fill-opacity="0.9"><circle cx="360.36" cy="43.00" r="0.7"/><circle cx="361.00" cy="58.70" r="0.7"/><circle cx="359.54" cy="45.81" r="0.7"/><circle cx="358.73" cy="45.07" r="0.7"/><circle cx="361.08" cy="48.89" r="0.7"/><circle cx="360.75" cy="52.00" r="0.7"/><circle cx="364.09" cy="47.48" r="0.7"/><circle cx="357.31" cy="53.55" r="0.7"/><circle cx="365.61" cy="48.04" r="0.7"/><circle cx="357.59" cy="56.95" r="0.7"/><circle cx="365.41" cy="47.77" r="0.7"/><circle cx="358.56" cy="55.57" r="0.7"/><circle cx="363.32" cy="56.66" r="0.7"/><circle cx="359.79" cy="51.01" r="0.7"/><circle cx="361.02" cy="53.49" r="0.7"/><circle cx="358.24" cy="46.33" r="0.7"/><circle cx="363.19" cy="51.40" r="0.7"/><circle cx="361.51" cy="50.62" r="0.7"/><circle cx="363.60" cy="47.78" r="0.7"/><circle cx="356.98" cy="52.17" r="0.7"/><circle cx="362.01" cy="43.82" r="0.7"/><circle cx="361.71" cy="46.47" r="0.7"/><circle cx="360.25" cy="55.86" r="0.7"/><circle cx="360.25" cy="44.87" r="0.7"/><circle cx="360.79" cy="58.63" r="0.7"/><circle cx="358.03" cy="50.42" r="0.7"/><circle cx="360.40" cy="50.04" r="0.7"/><circle cx="360.85" cy="35.10" r="0.7"/><circle cx="360.85" cy="72.10" r="0.7"/></g>
<line x1="378.75" y1="35.10" x2="378.75" y2="75.50" stroke="#333" stroke-width="0.5" />
<rect x="372.10" y="51.90" width="13.30" height="9.00" fill="#46b6d4" stroke="#333" stroke-width="0.5" rx="0" />
<line x1="372.10" y1="56.40" x2="385.40" y2="56.40" stroke="#222" stroke-width="0.9" />
<g fill="#000" fill-opacity="0.9"><circle cx="378.37" cy="35.10" r="0.7"/><circle cx="378.72" cy="75.50" r="0.7"/><circle cx="376.77" cy="43.69" r="0.7"/><circle cx="374.62" cy="61.78" r="0.7"/><circle cx="378.17" cy="62.02" r="0.7"/><circle cx="380.34" cy="54.29" r="0.7"/><circle cx="373.75" cy="56.27" r="0.7"/><circle cx="378.89" cy="55.08" r="0.7"/><circle cx="376.49" cy="43.75" r="0.7"/><circle cx="382.78" cy="49.26" r="0.7"/><circle cx="374.40" cy="56.22" r="0.7"/><circle cx="379.61" cy="71.63" r="0.7"/><circle cx="379.49" cy="37.29" r="0.7"/><circle cx="378.68" cy="63.59" r="0.7"/><circle cx="377.59" cy="72.12" r="0.7"/><circle cx="381.84" cy="52.01" r="0.7"/><circle cx="377.03" cy="58.85" r="0.7"/><circle cx="381.79" cy="55.26" r="0.7"/><circle cx="376.96" cy="64.87" r="0.7"/><circle cx="380.26" cy="69.52" r="0.7"/><circle cx="383.00" cy="61.77" r="0.7"/><circle cx="376.07" cy="63.20" r="0.7"/><circle cx="376.59" cy="55.70" r="0.7"/><circle cx="375.13" cy="65.08" r="0.7"/><circle cx="383.88" cy="58.20" r="0.7"/><circle cx="380.71" cy="60.36" r="0.7"/><circle cx="381.92" cy="59.93" r="0.7"/><circle cx="374.34" cy="53.68" r="0.7"/><circle cx="377.81" cy="46.16" r="0.7"/><circle cx="383.11" cy="54.40" r="0.7"/><circle cx="381.63" cy="47.31" r="0.7"/><circle cx="374.31" cy="53.12" r="0.7"/><circle cx="378.05" cy="66.73" r="0.7"/><circle cx="382.31" cy="55.94" r="0.7"/><circle cx="379.65" cy="54.33" r="0.7"/><circle cx="378.27" cy="48.43" r="0.7"/><circle cx="376.44" cy="66.00" r="0.7"/><circle cx="382.58" cy="56.31" r="0.7"/><circle cx="375.89" cy="54.09" r="0.7"/><circle cx="379.14" cy="42.87" r="0.7"/><circle cx="379.29" cy="40.21" r="0.7"/><circle cx="373.17" cy="56.23" r="0.7"/><circle cx="374.56" cy="56.81" r="0.7"/><circle cx="378.87" cy="50.58" r="0.7"/><circle cx="382.80" cy="51.20" r="0.7"/><circle cx="380.45" cy="59.96" r="0.7"/><circle cx="373.51" cy="60.28" r="0.7"/><circle cx="375.16" cy="63.27" r="0.7"/><circle cx="377.04" cy="56.51" r="0.7"/><circle cx="379.80" cy="57.96" r="0.7"/><circle cx="376.63" cy="65.98" r="0.7"/><circle cx="375.18" cy="50.47" r="0.7"/><circle cx="383.04" cy="50.55" r="0.7"/><circle cx="373.91" cy="56.57" r="0.7"/><circle cx="380.25" cy="60.57" r="0.7"/><circle cx="378.00" cy="65.24" r="0.7"/><circle cx="377.01" cy="47.14" r="0.7"/><circle cx="379.15" cy="66.93" r="0.7"/><circle cx="376.96" cy="57.16" r="0.7"/><circle cx="383.32" cy="51.56" r="0.7"/><circle cx="380.98" cy="50.11" r="0.7"/><circle cx="373.29" cy="56.55" r="0.7"/><circle cx="378.86" cy="72.26" r="0.7"/><circle cx="374.05" cy="51.91" r="0.7"/><circle cx="381.92" cy="59.41" r="0.7"/><circle cx="382.01" cy="65.65" r="0.7"/><circle cx="374.48" cy="57.12" r="0.7"/><circle cx="378.83" cy="59.53" r="0.7"/><circle cx="379.77" cy="65.94" r="0.7"/><circle cx="376.51" cy="58.16" r="0.7"/><circle cx="376.59" cy="52.21" r="0.7"/><circle cx="379.87" cy="71.08" r="0.7"/><circle cx="381.03" cy="61.02" r="0.7"/><circle cx="379.79" cy="70.54" r="0.7"/><circle cx="378.34" cy="56.96" r="0.7"/><circle cx="375.47" cy="55.98" r="0.7"/><circle cx="375.48" cy="48.36" r="0.7"/><circle cx="376.78" cy="56.63" r="0.7"/><circle cx="381.67" cy="58.45" r="0.7"/><circle cx="380.97" cy="51.61" r="0.7"/><circle cx="377.66" cy="43.07" r="0.7"/><circle cx="381.27" cy="48.99" r="0.7"/><circle cx="379.02" cy="53.80" r="0.7"/><circle cx="384.28" cy="55.39" r="0.7"/><circle cx="376.91" cy="66.86" r="0.7"/><circle cx="375.90" cy="57.34" r="0.7"/></g>
<line x1="350.40" y1="92.00" x2="388.90" y2="92.00" stroke="#888" stroke-width="0.9" />
<text x="369.65" y="90.90" font-size="5.03" text-anchor="middle" font-weight="normal" font-style="normal" fill="#222" stroke="#222" stroke-width="0.15" >AUROC = 0.707</text>
<rect x="391.20" y="8.35" width="38.30" height="10.30" fill="#ececec" stroke="#444" stroke-width="1.1" rx="0.8" />
<text x="410.35" y="15.40" font-size="5.6" text-anchor="middle" font-weight="normal" font-style="normal" fill="#222" stroke="#222" stroke-width="0.15" >ProMono</text>
<text x="410.35" y="23.90" font-size="5.56" text-anchor="middle" font-weight="normal" font-style="normal" fill="#222" stroke="#222" stroke-width="0.15" >2.6e−11</text>
<path d="M401.55,25.9 L401.55,24.7 L419.45,24.7 L419.45,25.9" fill="none" stroke="#333" stroke-width="0.5"/>
<line x1="401.55" y1="42.10" x2="401.55" y2="71.00" stroke="#333" stroke-width="0.5" />
<rect x="394.80" y="50.80" width="13.50" height="9.60" fill="#e84a33" stroke="#333" stroke-width="0.5" rx="0" />
<line x1="394.80" y1="55.60" x2="408.30" y2="55.60" stroke="#222" stroke-width="0.9" />
<g fill="#000" fill-opacity="0.9"><circle cx="401.23" cy="42.10" r="0.7"/><circle cx="401.84" cy="71.00" r="0.7"/><circle cx="406.33" cy="54.66" r="0.7"/><circle cx="405.66" cy="55.43" r="0.7"/><circle cx="400.10" cy="48.64" r="0.7"/><circle cx="402.95" cy="56.76" r="0.7"/><circle cx="406.30" cy="51.53" r="0.7"/><circle cx="401.36" cy="44.77" r="0.7"/><circle cx="404.67" cy="62.06" r="0.7"/><circle cx="401.15" cy="45.37" r="0.7"/><circle cx="399.50" cy="53.99" r="0.7"/><circle cx="399.66" cy="45.56" r="0.7"/><circle cx="405.87" cy="53.34" r="0.7"/><circle cx="397.81" cy="53.41" r="0.7"/><circle cx="405.87" cy="59.26" r="0.7"/><circle cx="399.88" cy="56.23" r="0.7"/><circle cx="396.64" cy="56.79" r="0.7"/><circle cx="403.61" cy="57.07" r="0.7"/><circle cx="403.40" cy="47.54" r="0.7"/><circle cx="398.42" cy="46.59" r="0.7"/><circle cx="404.36" cy="49.33" r="0.7"/><circle cx="404.73" cy="51.60" r="0.7"/><circle cx="405.42" cy="57.84" r="0.7"/><circle cx="405.95" cy="53.78" r="0.7"/><circle cx="398.57" cy="59.10" r="0.7"/><circle cx="397.39" cy="54.32" r="0.7"/><circle cx="402.77" cy="70.42" r="0.7"/><circle cx="401.55" cy="76.70" r="0.7"/></g>
<line x1="419.45" y1="27.30" x2="419.45" y2="56.50" stroke="#333" stroke-width="0.5" />
<rect x="412.80" y="38.30" width="13.30" height="9.60" fill="#46b6d4" stroke="#333" stroke-width="0.5" rx="0" />
<line x1="412.80" y1="42.70" x2="426.10" y2="42.70" stroke="#222" stroke-width="0.9" />
<g fill="#000" fill-opacity="0.9"><circle cx="419.61" cy="27.30" r="0.7"/><circle cx="419.84" cy="56.50" r="0.7"/><circle cx="420.94" cy="45.96" r="0.7"/><circle cx="414.65" cy="41.87" r="0.7"/><circle cx="422.34" cy="46.19" r="0.7"/><circle cx="418.55" cy="44.61" r="0.7"/><circle cx="414.85" cy="49.29" r="0.7"/><circle cx="422.03" cy="42.43" r="0.7"/><circle cx="418.16" cy="49.07" r="0.7"/><circle cx="419.48" cy="34.02" r="0.7"/><circle cx="414.91" cy="49.16" r="0.7"/><circle cx="418.74" cy="33.97" r="0.7"/><circle cx="418.57" cy="30.29" r="0.7"/><circle cx="421.58" cy="47.94" r="0.7"/><circle cx="423.21" cy="37.39" r="0.7"/><circle cx="414.59" cy="41.41" r="0.7"/><circle cx="413.61" cy="44.73" r="0.7"/><circle cx="416.21" cy="38.37" r="0.7"/><circle cx="413.60" cy="44.35" r="0.7"/><circle cx="421.81" cy="33.62" r="0.7"/><circle cx="415.68" cy="43.22" r="0.7"/><circle cx="422.50" cy="35.48" r="0.7"/><circle cx="416.58" cy="42.95" r="0.7"/><circle cx="416.61" cy="48.70" r="0.7"/><circle cx="421.78" cy="40.49" r="0.7"/><circle cx="420.97" cy="38.93" r="0.7"/><circle cx="414.43" cy="42.74" r="0.7"/><circle cx="422.74" cy="45.55" r="0.7"/><circle cx="420.23" cy="30.95" r="0.7"/><circle cx="418.33" cy="37.82" r="0.7"/><circle cx="423.29" cy="48.94" r="0.7"/><circle cx="415.47" cy="51.14" r="0.7"/><circle cx="424.18" cy="44.36" r="0.7"/><circle cx="419.46" cy="48.58" r="0.7"/><circle cx="417.82" cy="30.91" r="0.7"/><circle cx="419.20" cy="53.87" r="0.7"/><circle cx="420.83" cy="29.85" r="0.7"/><circle cx="421.14" cy="40.12" r="0.7"/><circle cx="415.65" cy="38.66" r="0.7"/><circle cx="422.94" cy="48.37" r="0.7"/><circle cx="416.31" cy="35.94" r="0.7"/><circle cx="419.04" cy="31.74" r="0.7"/><circle cx="415.03" cy="44.21" r="0.7"/><circle cx="419.18" cy="32.52" r="0.7"/><circle cx="416.10" cy="47.03" r="0.7"/><circle cx="417.24" cy="38.89" r="0.7"/><circle cx="415.70" cy="38.33" r="0.7"/><circle cx="417.88" cy="28.28" r="0.7"/><circle cx="419.72" cy="42.81" r="0.7"/><circle cx="416.27" cy="49.65" r="0.7"/><circle cx="424.97" cy="40.31" r="0.7"/><circle cx="421.92" cy="47.17" r="0.7"/><circle cx="417.06" cy="54.66" r="0.7"/><circle cx="418.72" cy="46.24" r="0.7"/><circle cx="417.68" cy="30.49" r="0.7"/><circle cx="416.04" cy="40.29" r="0.7"/><circle cx="418.17" cy="39.86" r="0.7"/><circle cx="422.03" cy="50.42" r="0.7"/><circle cx="421.73" cy="44.37" r="0.7"/><circle cx="419.21" cy="31.63" r="0.7"/><circle cx="415.16" cy="42.67" r="0.7"/><circle cx="421.80" cy="36.37" r="0.7"/><circle cx="423.79" cy="37.87" r="0.7"/><circle cx="421.40" cy="33.45" r="0.7"/><circle cx="418.59" cy="47.05" r="0.7"/><circle cx="423.93" cy="44.38" r="0.7"/><circle cx="421.02" cy="55.11" r="0.7"/><circle cx="421.37" cy="37.98" r="0.7"/><circle cx="420.08" cy="28.14" r="0.7"/><circle cx="420.69" cy="36.20" r="0.7"/><circle cx="414.73" cy="44.64" r="0.7"/><circle cx="420.73" cy="30.75" r="0.7"/><circle cx="420.69" cy="49.31" r="0.7"/><circle cx="418.91" cy="42.70" r="0.7"/><circle cx="420.49" cy="50.91" r="0.7"/><circle cx="422.63" cy="32.82" r="0.7"/><circle cx="416.35" cy="49.03" r="0.7"/><circle cx="418.46" cy="35.03" r="0.7"/><circle cx="419.38" cy="31.50" r="0.7"/><circle cx="419.96" cy="44.85" r="0.7"/><circle cx="415.39" cy="42.35" r="0.7"/><circle cx="419.66" cy="46.39" r="0.7"/><circle cx="419.80" cy="50.93" r="0.7"/><circle cx="421.61" cy="48.77" r="0.7"/><circle cx="421.60" cy="31.56" r="0.7"/><circle cx="419.71" cy="41.85" r="0.7"/></g>
<line x1="391.10" y1="92.00" x2="429.60" y2="92.00" stroke="#888" stroke-width="0.9" />
<text x="410.35" y="90.90" font-size="5.03" text-anchor="middle" font-weight="normal" font-style="normal" fill="#222" stroke="#222" stroke-width="0.15" >AUROC = 0.927</text>
<rect x="431.90" y="8.35" width="38.30" height="10.30" fill="#ececec" stroke="#444" stroke-width="1.1" rx="0.8" />
<text x="451.05" y="15.40" font-size="5.6" text-anchor="middle" font-weight="normal" font-style="normal" fill="#222" stroke="#222" stroke-width="0.15" >Mono</text>
<text x="451.05" y="23.90" font-size="5.56" text-anchor="middle" font-weight="normal" font-style="normal" fill="#222" stroke="#222" stroke-width="0.15" >1.5e−07</text>
<path d="M442.25,25.9 L442.25,24.7 L460.15,24.7 L460.15,25.9" fill="none" stroke="#333" stroke-width="0.5"/>
<line x1="442.25" y1="41.80" x2="442.25" y2="71.00" stroke="#333" stroke-width="0.5" />
<rect x="435.50" y="54.80" width="13.50" height="11.30" fill="#e84a33" stroke="#333" stroke-width="0.5" rx="0" />
<line x1="435.50" y1="57.50" x2="449.00" y2="57.50" stroke="#222" stroke-width="0.9" />
<g fill="#000" fill-opacity="0.9"><circle cx="442.14" cy="41.80" r="0.7"/><circle cx="442.79" cy="71.00" r="0.7"/><circle cx="441.14" cy="60.97" r="0.7"/><circle cx="447.48" cy="57.88" r="0.7"/><circle cx="440.81" cy="52.81" r="0.7"/><circle cx="441.34" cy="64.41" r="0.7"/><circle cx="437.12" cy="60.07" r="0.7"/><circle cx="443.91" cy="49.11" r="0.7"/><circle cx="440.78" cy="62.21" r="0.7"/><circle cx="444.85" cy="56.88" r="0.7"/><circle cx="446.31" cy="64.03" r="0.7"/><circle cx="445.05" cy="51.12" r="0.7"/><circle cx="441.09" cy="56.40" r="0.7"/><circle cx="445.22" cy="58.65" r="0.7"/><circle cx="445.33" cy="62.21" r="0.7"/><circle cx="442.81" cy="50.61" r="0.7"/><circle cx="439.87" cy="49.76" r="0.7"/><circle cx="443.41" cy="65.87" r="0.7"/><circle cx="445.64" cy="55.57" r="0.7"/><circle cx="440.17" cy="61.68" r="0.7"/><circle cx="442.63" cy="48.04" r="0.7"/><circle cx="441.33" cy="69.82" r="0.7"/><circle cx="444.46" cy="69.85" r="0.7"/><circle cx="439.60" cy="56.52" r="0.7"/><circle cx="441.65" cy="66.39" r="0.7"/><circle cx="444.64" cy="57.77" r="0.7"/><circle cx="439.89" cy="58.12" r="0.7"/></g>
<line x1="460.15" y1="34.00" x2="460.15" y2="66.50" stroke="#333" stroke-width="0.5" />
<rect x="453.50" y="43.00" width="13.30" height="11.20" fill="#46b6d4" stroke="#333" stroke-width="0.5" rx="0" />
<line x1="453.50" y1="47.40" x2="466.80" y2="47.40" stroke="#222" stroke-width="0.9" />
<g fill="#000" fill-opacity="0.9"><circle cx="459.84" cy="34.00" r="0.7"/><circle cx="459.91" cy="66.50" r="0.7"/><circle cx="461.32" cy="37.83" r="0.7"/><circle cx="462.05" cy="48.64" r="0.7"/><circle cx="461.91" cy="63.36" r="0.7"/><circle cx="462.15" cy="63.43" r="0.7"/><circle cx="463.12" cy="53.41" r="0.7"/><circle cx="461.18" cy="58.34" r="0.7"/><circle cx="457.06" cy="60.69" r="0.7"/><circle cx="462.00" cy="49.02" r="0.7"/><circle cx="455.87" cy="47.40" r="0.7"/><circle cx="457.17" cy="51.62" r="0.7"/><circle cx="456.02" cy="48.78" r="0.7"/><circle cx="463.90" cy="39.10" r="0.7"/><circle cx="464.80" cy="48.83" r="0.7"/><circle cx="461.32" cy="42.06" r="0.7"/><circle cx="464.74" cy="50.05" r="0.7"/><circle cx="461.98" cy="34.10" r="0.7"/><circle cx="462.37" cy="50.60" r="0.7"/><circle cx="460.48" cy="42.27" r="0.7"/><circle cx="464.73" cy="46.90" r="0.7"/><circle cx="460.61" cy="37.61" r="0.7"/><circle cx="455.84" cy="46.79" r="0.7"/><circle cx="460.08" cy="54.04" r="0.7"/><circle cx="457.11" cy="56.96" r="0.7"/><circle cx="460.05" cy="51.08" r="0.7"/><circle cx="462.87" cy="36.04" r="0.7"/><circle cx="454.24" cy="47.53" r="0.7"/><circle cx="460.82" cy="52.94" r="0.7"/><circle cx="461.65" cy="38.77" r="0.7"/><circle cx="459.26" cy="52.17" r="0.7"/><circle cx="464.63" cy="39.95" r="0.7"/><circle cx="461.15" cy="58.96" r="0.7"/><circle cx="455.20" cy="53.33" r="0.7"/><circle cx="463.56" cy="36.73" r="0.7"/><circle cx="458.63" cy="38.61" r="0.7"/><circle cx="460.03" cy="58.24" r="0.7"/><circle cx="464.88" cy="46.15" r="0.7"/><circle cx="460.88" cy="61.60" r="0.7"/><circle cx="458.29" cy="50.47" r="0.7"/><circle cx="459.88" cy="53.03" r="0.7"/><circle cx="460.41" cy="40.74" r="0.7"/><circle cx="459.38" cy="48.21" r="0.7"/><circle cx="459.35" cy="41.17" r="0.7"/><circle cx="457.95" cy="41.71" r="0.7"/><circle cx="460.19" cy="51.75" r="0.7"/><circle cx="458.02" cy="39.20" r="0.7"/><circle cx="461.99" cy="46.40" r="0.7"/><circle cx="458.00" cy="49.53" r="0.7"/><circle cx="458.24" cy="39.50" r="0.7"/><circle cx="462.32" cy="36.31" r="0.7"/><circle cx="455.49" cy="40.70" r="0.7"/><circle cx="460.67" cy="44.15" r="0.7"/><circle cx="455.31" cy="54.74" r="0.7"/><circle cx="456.52" cy="49.77" r="0.7"/><circle cx="461.37" cy="58.41" r="0.7"/><circle cx="463.18" cy="41.48" r="0.7"/><circle cx="461.08" cy="57.99" r="0.7"/><circle cx="461.43" cy="40.66" r="0.7"/><circle cx="462.19" cy="43.34" r="0.7"/><circle cx="458.04" cy="35.80" r="0.7"/><circle cx="463.01" cy="42.37" r="0.7"/><circle cx="456.56" cy="38.64" r="0.7"/><circle cx="463.42" cy="48.45" r="0.7"/><circle cx="465.01" cy="49.68" r="0.7"/><circle cx="463.68" cy="42.51" r="0.7"/><circle cx="462.97" cy="40.14" r="0.7"/><circle cx="458.13" cy="40.88" r="0.7"/><circle cx="459.24" cy="44.72" r="0.7"/><circle cx="461.75" cy="43.36" r="0.7"/><circle cx="464.05" cy="56.20" r="0.7"/><circle cx="456.64" cy="58.53" r="0.7"/><circle cx="455.85" cy="51.38" r="0.7"/><circle cx="464.81" cy="51.82" r="0.7"/><circle cx="459.74" cy="36.30" r="0.7"/><circle cx="460.97" cy="56.40" r="0.7"/><circle cx="465.38" cy="48.20" r="0.7"/><circle cx="459.44" cy="57.69" r="0.7"/><circle cx="455.41" cy="46.15" r="0.7"/><circle cx="456.21" cy="43.52" r="0.7"/><circle cx="454.86" cy="42.43" r="0.7"/><circle cx="457.86" cy="61.24" r="0.7"/><circle cx="465.73" cy="47.82" r="0.7"/><circle cx="458.26" cy="63.07" r="0.7"/><circle cx="456.06" cy="57.09" r="0.7"/><circle cx="462.93" cy="46.10" r="0.7"/></g>
<line x1="431.80" y1="92.00" x2="470.30" y2="92.00" stroke="#888" stroke-width="0.9" />
<text x="451.05" y="90.90" font-size="5.03" text-anchor="middle" font-weight="normal" font-style="normal" fill="#222" stroke="#222" stroke-width="0.15" >AUROC = 0.836</text>
<rect x="472.60" y="8.35" width="38.30" height="10.30" fill="#ececec" stroke="#444" stroke-width="1.1" rx="0.8" />
<text x="491.75" y="15.40" font-size="5.6" text-anchor="middle" font-weight="normal" font-style="normal" fill="#222" stroke="#222" stroke-width="0.15" >cDC</text>
<text x="491.75" y="23.90" font-size="5.56" text-anchor="middle" font-weight="normal" font-style="normal" fill="#222" stroke="#222" stroke-width="0.15" >4.2e−12</text>
<path d="M482.95,25.9 L482.95,24.7 L500.85,24.7 L500.85,25.9" fill="none" stroke="#333" stroke-width="0.5"/>
<line x1="482.95" y1="40.70" x2="482.95" y2="67.60" stroke="#333" stroke-width="0.5" />
<rect x="476.20" y="50.80" width="13.50" height="14.60" fill="#e84a33" stroke="#333" stroke-width="0.5" rx="0" />
<line x1="476.20" y1="55.30" x2="489.70" y2="55.30" stroke="#222" stroke-width="0.9" />
<g fill="#000" fill-opacity="0.9"><circle cx="482.57" cy="40.70" r="0.7"/><circle cx="482.41" cy="67.60" r="0.7"/><circle cx="485.46" cy="46.60" r="0.7"/><circle cx="485.28" cy="49.99" r="0.7"/><circle cx="484.88" cy="63.76" r="0.7"/><circle cx="480.55" cy="62.07" r="0.7"/><circle cx="477.88" cy="51.10" r="0.7"/><circle cx="486.36" cy="56.89" r="0.7"/><circle cx="485.02" cy="64.31" r="0.7"/><circle cx="479.53" cy="60.23" r="0.7"/><circle cx="478.94" cy="64.12" r="0.7"/><circle cx="481.83" cy="44.77" r="0.7"/><circle cx="484.39" cy="43.91" r="0.7"/><circle cx="479.39" cy="49.50" r="0.7"/><circle cx="484.48" cy="58.61" r="0.7"/><circle cx="484.04" cy="44.49" r="0.7"/><circle cx="485.41" cy="45.08" r="0.7"/><circle cx="487.41" cy="61.09" r="0.7"/><circle cx="480.76" cy="58.62" r="0.7"/><circle cx="484.56" cy="67.25" r="0.7"/><circle cx="484.03" cy="60.30" r="0.7"/><circle cx="487.19" cy="45.85" r="0.7"/><circle cx="481.15" cy="63.18" r="0.7"/><circle cx="482.45" cy="41.23" r="0.7"/><circle cx="484.63" cy="64.12" r="0.7"/><circle cx="483.92" cy="47.82" r="0.7"/><circle cx="481.34" cy="42.18" r="0.7"/></g>
<line x1="500.85" y1="30.00" x2="500.85" y2="56.40" stroke="#333" stroke-width="0.5" />
<rect x="494.20" y="38.90" width="13.30" height="6.30" fill="#46b6d4" stroke="#333" stroke-width="0.5" rx="0" />
<line x1="494.20" y1="41.80" x2="507.50" y2="41.80" stroke="#222" stroke-width="0.9" />
<g fill="#000" fill-opacity="0.9"><circle cx="500.25" cy="30.00" r="0.7"/><circle cx="500.57" cy="56.40" r="0.7"/><circle cx="503.33" cy="35.77" r="0.7"/><circle cx="504.96" cy="44.99" r="0.7"/><circle cx="502.29" cy="51.17" r="0.7"/><circle cx="504.92" cy="44.35" r="0.7"/><circle cx="504.43" cy="38.11" r="0.7"/><circle cx="504.39" cy="40.01" r="0.7"/><circle cx="499.41" cy="37.26" r="0.7"/><circle cx="499.25" cy="31.38" r="0.7"/><circle cx="499.28" cy="33.14" r="0.7"/><circle cx="503.53" cy="38.76" r="0.7"/><circle cx="501.97" cy="45.21" r="0.7"/><circle cx="502.92" cy="40.24" r="0.7"/><circle cx="498.29" cy="38.39" r="0.7"/><circle cx="503.84" cy="42.55" r="0.7"/><circle cx="496.04" cy="43.27" r="0.7"/><circle cx="503.43" cy="36.30" r="0.7"/><circle cx="501.80" cy="42.32" r="0.7"/><circle cx="504.89" cy="38.10" r="0.7"/><circle cx="500.63" cy="46.48" r="0.7"/><circle cx="501.73" cy="37.68" r="0.7"/><circle cx="497.10" cy="43.05" r="0.7"/><circle cx="503.00" cy="44.91" r="0.7"/><circle cx="499.91" cy="37.49" r="0.7"/><circle cx="501.00" cy="46.82" r="0.7"/><circle cx="506.74" cy="42.72" r="0.7"/><circle cx="499.37" cy="43.05" r="0.7"/><circle cx="503.21" cy="47.51" r="0.7"/><circle cx="497.60" cy="46.29" r="0.7"/><circle cx="501.05" cy="37.93" r="0.7"/><circle cx="495.59" cy="39.09" r="0.7"/><circle cx="504.71" cy="45.08" r="0.7"/><circle cx="499.12" cy="35.18" r="0.7"/><circle cx="504.18" cy="42.37" r="0.7"/><circle cx="501.76" cy="30.70" r="0.7"/><circle cx="503.51" cy="47.37" r="0.7"/><circle cx="496.20" cy="45.63" r="0.7"/><circle cx="497.30" cy="40.91" r="0.7"/><circle cx="495.53" cy="42.70" r="0.7"/><circle cx="501.51" cy="43.75" r="0.7"/><circle cx="505.32" cy="45.71" r="0.7"/><circle cx="504.86" cy="37.67" r="0.7"/><circle cx="500.08" cy="48.17" r="0.7"/><circle cx="496.68" cy="44.52" r="0.7"/><circle cx="501.50" cy="45.63" r="0.7"/><circle cx="502.51" cy="40.80" r="0.7"/><circle cx="500.16" cy="49.16" r="0.7"/><circle cx="500.26" cy="39.73" r="0.7"/><circle cx="504.13" cy="48.96" r="0.7"/><circle cx="499.92" cy="53.05" r="0.7"/><circle cx="499.36" cy="45.63" r="0.7"/><circle cx="505.62" cy="42.75" r="0.7"/><circle cx="498.23" cy="49.88" r="0.7"/><circle cx="503.26" cy="36.28" r="0.7"/><circle cx="506.43" cy="39.94" r="0.7"/><circle cx="497.88" cy="34.63" r="0.7"/><circle cx="504.65" cy="47.09" r="0.7"/><circle cx="502.10" cy="48.60" r="0.7"/><circle cx="503.78" cy="39.73" r="0.7"/><circle cx="497.96" cy="48.35" r="0.7"/><circle cx="496.52" cy="40.03" r="0.7"/><circle cx="500.66" cy="45.34" r="0.7"/><circle cx="496.75" cy="43.65" r="0.7"/><circle cx="502.72" cy="45.10" r="0.7"/><circle cx="499.10" cy="49.93" r="0.7"/><circle cx="495.32" cy="42.45" r="0.7"/><circle cx="505.43" cy="45.06" r="0.7"/><circle cx="505.11" cy="40.21" r="0.7"/><circle cx="500.25" cy="43.96" r="0.7"/><circle cx="496.21" cy="39.99" r="0.7"/><circle cx="501.50" cy="50.69" r="0.7"/><circle cx="500.39" cy="37.53" r="0.7"/><circle cx="500.65" cy="36.69" r="0.7"/><circle cx="501.59" cy="49.87" r="0.7"/><circle cx="495.86" cy="44.07" r="0.7"/><circle cx="503.17" cy="44.64" r="0.7"/><circle cx="504.92" cy="39.09" r="0.7"/><circle cx="498.08" cy="40.86" r="0.7"/><circle cx="498.31" cy="39.26" r="0.7"/><circle cx="504.80" cy="43.37" r="0.7"/><circle cx="500.75" cy="40.22" r="0.7"/><circle cx="498.85" cy="44.48" r="0.7"/><circle cx="506.29" cy="43.87" r="0.7"/><circle cx="495.68" cy="40.36" r="0.7"/><circle cx="498.58" cy="47.83" r="0.7"/></g>
<line x1="472.50" y1="92.00" x2="511.00" y2="92.00" stroke="#888" stroke-width="0.9" />
<text x="491.75" y="90.90" font-size="5.03" text-anchor="middle" font-weight="normal" font-style="normal" fill="#222" stroke="#222" stroke-width="0.15" >AUROC = 0.944</text>
<text x="188.80" y="104.50" font-size="5.51" text-anchor="start" font-weight="normal" font-style="normal" fill="#222" stroke="#222" stroke-width="0.15" >Subgroup</text>
<line x1="219.30" y1="98.60" x2="219.30" y2="105.80" stroke="#333" stroke-width="0.4" />
<rect x="216.20" y="99.70" width="6.20" height="4.90" fill="#e84a33" stroke="#333" stroke-width="0.4" rx="0" />
<line x1="216.20" y1="102.15" x2="222.40" y2="102.15" stroke="#333" stroke-width="0.6" />
<text x="224.80" y="104.50" font-size="5.6" text-anchor="start" font-weight="normal" font-style="normal" fill="#222" stroke="#222" stroke-width="0.15" >KMT2A-r early (<tspan font-style="italic">n</tspan> = 27)</text>
<line x1="289.45" y1="98.60" x2="289.45" y2="105.80" stroke="#333" stroke-width="0.4" />
<rect x="286.40" y="99.70" width="6.10" height="4.90" fill="#46b6d4" stroke="#333" stroke-width="0.4" rx="0" />
<line x1="286.40" y1="102.15" x2="292.50" y2="102.15" stroke="#333" stroke-width="0.6" />
<text x="294.60" y="104.50" font-size="5.6" text-anchor="start" font-weight="normal" font-style="normal" fill="#222" stroke="#222" stroke-width="0.15" >KMT2A-r committed (<tspan font-style="italic">n</tspan> = 86)</text>
<line x1="0.00" y1="111.60" x2="520.00" y2="111.60" stroke="#888" stroke-width="1.6" />
<line x1="229.50" y1="112.20" x2="229.50" y2="311.00" stroke="#333" stroke-width="1.0" stroke-dasharray="1.1 1.5"/>
<line x1="424.50" y1="112.20" x2="424.50" y2="311.00" stroke="#333" stroke-width="1.0" stroke-dasharray="1.1 1.5"/>
<text x="6.60" y="123.20" font-size="10.9" text-anchor="start" font-weight="bold" font-style="normal" fill="#000" >D</text>
<rect x="18.50" y="118.80" width="81.50" height="83.30" fill="#fff" stroke="#a0a0a0" stroke-width="1.0" rx="0" />
<g transform="translate(18.00,127.90)" fill="#ececec" stroke="#ececec" filter="url(#bl05)">
<path d="M25.5,10 C30,6 36,3.3 42.5,3.2 C50,3.6 56,7 59.5,12.5 C61.5,17 61,22 58,25.5 L53.5,21 C53.5,17 51,14 46,12.5 C40,11 32,11 25.5,10 Z" stroke-width="1.2" stroke-linejoin="round"/>
<path d="M37,29.5 C45,27.5 55,27.5 67,37" fill="none" stroke-width="5.5" stroke-linecap="round"/>
<path d="M56,22 L51,30" fill="none" stroke-width="5" stroke-linecap="round"/>
<path d="M26,44 C34,43 42,42 52,40.5" fill="none" stroke-width="3.5" stroke-linecap="round"/>
<ellipse cx="23" cy="44.5" rx="5.5" ry="3.5"/>
<path d="M9,55.5 L19,47.5" fill="none" stroke-width="1.2" stroke-linecap="round"/>
<circle cx="7.5" cy="57.3" r="2.5"/>
<path d="M44,47 C55,44 66,43 71,47 C73,54 72,62 68,65 C60,67 52,66 47,64 C44,58 42,52 44,47 Z" stroke-width="1"/>
<path d="M48,35 L66,37 L70,46 L45,47 Z" stroke-width="1"/>
<path d="M32,64 L53,61" fill="none" stroke-width="1.6" stroke-linecap="round"/>
<circle cx="43.5" cy="20" r="1.8"/>
</g>
<path d="M72.5,146.5 L67,158 L88.5,172.5" fill="none" stroke="#e3195a" stroke-width="4.0" stroke-linejoin="round" filter="url(#bl05)"/>
<path d="M68.5,153 L75,154 L74,160 L71,163 L65,160.5 L65,156.5 Z" fill="#e3195a" filter="url(#bl05)"/>
<ellipse cx="72" cy="152.3" rx="2.4" ry="3.6" transform="rotate(20 72 152.3)" fill="#3d0a52" filter="url(#bl05)"/>
<ellipse cx="85.8" cy="170.8" rx="4.5" ry="2.4" transform="rotate(33 85.8 170.8)" fill="#3d0a52" filter="url(#bl05)"/>
<path d="M66,160 L70,162" stroke="#f04a50" stroke-width="2" filter="url(#bl05)"/>
<circle cx="71" cy="143.5" r="0.7" fill="#f0a050" fill-opacity="0.8"/>
<circle cx="72.5" cy="144.5" r="0.7" fill="#f0a050" fill-opacity="0.8"/>
<circle cx="74" cy="146" r="0.7" fill="#f0a050" fill-opacity="0.8"/>
<circle cx="76" cy="150" r="0.7" fill="#f0a050" fill-opacity="0.8"/>
<circle cx="78" cy="151" r="0.7" fill="#f0a050" fill-opacity="0.8"/>
<circle cx="80.5" cy="151.5" r="0.7" fill="#f0a050" fill-opacity="0.8"/>
<circle cx="82" cy="150.5" r="0.7" fill="#f0a050" fill-opacity="0.8"/>
<circle cx="49" cy="137.5" r="0.7" fill="#f0a050" fill-opacity="0.8"/>
<circle cx="51" cy="138" r="0.7" fill="#f0a050" fill-opacity="0.8"/>
<circle cx="53" cy="138.5" r="0.7" fill="#f0a050" fill-opacity="0.8"/>
<circle cx="58" cy="175" r="0.7" fill="#f0a050" fill-opacity="0.8"/>
<circle cx="62" cy="180" r="0.7" fill="#f0a050" fill-opacity="0.8"/>
<circle cx="66" cy="184" r="0.7" fill="#f0a050" fill-opacity="0.8"/>
<circle cx="84" cy="177" r="0.7" fill="#f0a050" fill-opacity="0.8"/>
<circle cx="86" cy="178" r="0.7" fill="#f0a050" fill-opacity="0.8"/>
<circle cx="82" cy="183" r="0.7" fill="#f0a050" fill-opacity="0.8"/>
<circle cx="74" cy="188" r="0.7" fill="#f0a050" fill-opacity="0.8"/>
<circle cx="68" cy="176" r="0.7" fill="#f0a050" fill-opacity="0.8"/>
<circle cx="92" cy="164" r="0.7" fill="#f0a050" fill-opacity="0.8"/>
<circle cx="60" cy="171" r="0.7" fill="#f0a050" fill-opacity="0.8"/>
<circle cx="78" cy="180" r="0.7" fill="#f0a050" fill-opacity="0.8"/>
<circle cx="88" cy="181" r="0.7" fill="#f0a050" fill-opacity="0.8"/>
<circle cx="70" cy="182" r="0.7" fill="#f0a050" fill-opacity="0.8"/>
<circle cx="76" cy="185" r="0.7" fill="#f0a050" fill-opacity="0.8"/>
<circle cx="63.03" cy="173.08" r="0.5" fill="#f0a050" fill-opacity="0.6"/>
<circle cx="83.91" cy="175.20" r="0.5" fill="#f0a050" fill-opacity="0.6"/>
<circle cx="76.78" cy="180.05" r="0.5" fill="#f0a050" fill-opacity="0.6"/>
<circle cx="65.72" cy="185.17" r="0.5" fill="#f0a050" fill-opacity="0.6"/>
<circle cx="63.93" cy="183.59" r="0.5" fill="#f0a050" fill-opacity="0.6"/>
<circle cx="63.50" cy="179.57" r="0.5" fill="#f0a050" fill-opacity="0.6"/>
<circle cx="66.39" cy="176.86" r="0.5" fill="#f0a050" fill-opacity="0.6"/>
<circle cx="89.13" cy="186.46" r="0.5" fill="#f0a050" fill-opacity="0.6"/>
<circle cx="69.12" cy="187.93" r="0.5" fill="#f0a050" fill-opacity="0.6"/>
<circle cx="66.32" cy="179.10" r="0.5" fill="#f0a050" fill-opacity="0.6"/>
<circle cx="85.63" cy="183.55" r="0.5" fill="#f0a050" fill-opacity="0.6"/>
<circle cx="63.01" cy="189.81" r="0.5" fill="#f0a050" fill-opacity="0.6"/>
<rect x="18.50" y="118.80" width="81.50" height="10.70" fill="#e6e6e6" stroke="#555" stroke-width="1.1" rx="0" />
<text x="59.25" y="125.80" font-size="6.56" text-anchor="middle" font-weight="bold" font-style="normal" fill="#111" stroke="#111" stroke-width="0.2"><tspan font-style="italic">KMT2A-r</tspan> early</text>
<text x="62.80" y="151.00" font-size="5.6" text-anchor="middle" font-weight="normal" font-style="normal" fill="#555" stroke="#555" stroke-width="0.15" >MEP</text>
<text x="57.00" y="164.00" font-size="5.6" text-anchor="middle" font-weight="normal" font-style="normal" fill="#555" stroke="#555" stroke-width="0.15" >LMPP</text>
<text x="91.00" y="167.00" font-size="5.6" text-anchor="middle" font-weight="normal" font-style="normal" fill="#555" stroke="#555" stroke-width="0.15" >GMP</text>
<text x="59.25" y="200.60" font-size="4.5" text-anchor="middle" font-weight="normal" font-style="normal" fill="#111" stroke="#111" stroke-width="0.15" >AML6R - Lambo and colleagues 2023</text>
<rect x="102.00" y="118.70" width="9.30" height="1.80" fill="#b2360f" stroke="none" stroke-width="0.5" rx="0" />
<rect x="102.00" y="120.50" width="9.30" height="3.80" fill="#f5cd48" stroke="none" stroke-width="0.5" rx="0" />
<rect x="102.00" y="124.30" width="9.30" height="78.00" fill="#9b9b9b" stroke="none" stroke-width="0.5" rx="0" />
<rect x="102.00" y="118.70" width="9.30" height="83.50" fill="none" stroke="#555" stroke-width="0.6" rx="0" />
<rect x="122.70" y="118.80" width="81.20" height="83.30" fill="#fff" stroke="#a0a0a0" stroke-width="1.0" rx="0" />
<g transform="translate(122.20,127.90)" fill="#ececec" stroke="#ececec" filter="url(#bl05)">
<path d="M25.5,10 C30,6 36,3.3 42.5,3.2 C50,3.6 56,7 59.5,12.5 C61.5,17 61,22 58,25.5 L53.5,21 C53.5,17 51,14 46,12.5 C40,11 32,11 25.5,10 Z" stroke-width="1.2" stroke-linejoin="round"/>
<path d="M37,29.5 C45,27.5 55,27.5 67,37" fill="none" stroke-width="5.5" stroke-linecap="round"/>
<path d="M56,22 L51,30" fill="none" stroke-width="5" stroke-linecap="round"/>
<path d="M26,44 C34,43 42,42 52,40.5" fill="none" stroke-width="3.5" stroke-linecap="round"/>
<ellipse cx="23" cy="44.5" rx="5.5" ry="3.5"/>
<path d="M9,55.5 L19,47.5" fill="none" stroke-width="1.2" stroke-linecap="round"/>
<circle cx="7.5" cy="57.3" r="2.5"/>
<path d="M44,47 C55,44 66,43 71,47 C73,54 72,62 68,65 C60,67 52,66 47,64 C44,58 42,52 44,47 Z" stroke-width="1"/>
<path d="M48,35 L66,37 L70,46 L45,47 Z" stroke-width="1"/>
<path d="M32,64 L53,61" fill="none" stroke-width="1.6" stroke-linecap="round"/>
<circle cx="43.5" cy="20" r="1.8"/>
</g>
<path d="M174,149 C172,155 170,160 171,165 M160,170 C165,167 168,166 171,164 M171,163 C178,163 184,163 189,165" fill="none" stroke="#e3195a" stroke-width="2.6" stroke-opacity="0.8" filter="url(#bl05)"/>
<path d="M168,158 L176,158 L175,166 L168,166 Z" fill="#e3195a" fill-opacity="0.7" filter="url(#bl05)"/>
<ellipse cx="185.5" cy="191" rx="6.5" ry="2.4" fill="#3d0a52" filter="url(#bl05)"/>
<path d="M177,190 L180,191" fill="none" stroke="#c8245c" stroke-width="2.5" filter="url(#bl05)"/>
<circle cx="143" cy="176" r="0.7" fill="#f0a050" fill-opacity="0.8"/>
<circle cx="146" cy="174.5" r="0.7" fill="#f0a050" fill-opacity="0.8"/>
<circle cx="149" cy="173" r="0.7" fill="#f0a050" fill-opacity="0.8"/>
<circle cx="161" cy="142" r="0.7" fill="#f0a050" fill-opacity="0.8"/>
<circle cx="163" cy="141.5" r="0.7" fill="#f0a050" fill-opacity="0.8"/>
<circle cx="166" cy="141" r="0.7" fill="#f0a050" fill-opacity="0.8"/>
<circle cx="178" cy="168" r="0.7" fill="#f0a050" fill-opacity="0.8"/>
<circle cx="182" cy="170" r="0.7" fill="#f0a050" fill-opacity="0.8"/>
<circle cx="186" cy="172" r="0.7" fill="#f0a050" fill-opacity="0.8"/>
<circle cx="181" cy="151" r="0.7" fill="#f0a050" fill-opacity="0.8"/>
<circle cx="185" cy="153" r="0.7" fill="#f0a050" fill-opacity="0.8"/>
<circle cx="189" cy="156" r="0.7" fill="#f0a050" fill-opacity="0.8"/>
<circle cx="192" cy="164" r="0.7" fill="#f0a050" fill-opacity="0.8"/>
<circle cx="178" cy="160" r="0.7" fill="#f0a050" fill-opacity="0.8"/>
<circle cx="156" cy="172" r="0.7" fill="#f0a050" fill-opacity="0.8"/>
<circle cx="188" cy="184" r="0.7" fill="#f0a050" fill-opacity="0.8"/>
<circle cx="170" cy="180" r="0.7" fill="#f0a050" fill-opacity="0.8"/>
<circle cx="181.05" cy="165.40" r="0.6" fill="#f0a050" fill-opacity="0.75"/>
<circle cx="190.48" cy="163.98" r="0.6" fill="#f0a050" fill-opacity="0.75"/>
<circle cx="182.16" cy="165.81" r="0.6" fill="#f0a050" fill-opacity="0.75"/>
<circle cx="175.69" cy="164.68" r="0.6" fill="#f0a050" fill-opacity="0.75"/>
<circle cx="184.60" cy="168.89" r="0.6" fill="#f0a050" fill-opacity="0.75"/>
<circle cx="173.88" cy="161.55" r="0.6" fill="#f0a050" fill-opacity="0.75"/>
<circle cx="173.81" cy="169.14" r="0.6" fill="#f0a050" fill-opacity="0.75"/>
<circle cx="185.87" cy="157.63" r="0.6" fill="#f0a050" fill-opacity="0.75"/>
<circle cx="191.64" cy="171.47" r="0.6" fill="#f0a050" fill-opacity="0.75"/>
<circle cx="185.08" cy="166.23" r="0.6" fill="#f0a050" fill-opacity="0.75"/>
<circle cx="175.15" cy="157.23" r="0.6" fill="#f0a050" fill-opacity="0.75"/>
<circle cx="182.57" cy="157.89" r="0.6" fill="#f0a050" fill-opacity="0.75"/>
<circle cx="175.80" cy="160.63" r="0.6" fill="#f0a050" fill-opacity="0.75"/>
<circle cx="172.60" cy="163.96" r="0.6" fill="#f0a050" fill-opacity="0.75"/>
<circle cx="146.73" cy="176.21" r="0.6" fill="#f0a050" fill-opacity="0.75"/>
<circle cx="147.75" cy="175.20" r="0.6" fill="#f0a050" fill-opacity="0.75"/>
<circle cx="147.50" cy="175.31" r="0.6" fill="#f0a050" fill-opacity="0.75"/>
<circle cx="146.95" cy="173.39" r="0.6" fill="#f0a050" fill-opacity="0.75"/>
<circle cx="153.97" cy="176.98" r="0.6" fill="#f0a050" fill-opacity="0.75"/>
<circle cx="174.41" cy="142.25" r="0.6" fill="#f0a050" fill-opacity="0.75"/>
<circle cx="156.03" cy="139.38" r="0.6" fill="#f0a050" fill-opacity="0.75"/>
<circle cx="155.12" cy="138.42" r="0.6" fill="#f0a050" fill-opacity="0.75"/>
<circle cx="171.82" cy="140.40" r="0.6" fill="#f0a050" fill-opacity="0.75"/>
<circle cx="168.47" cy="166.71" r="0.7" fill="#e3195a" fill-opacity="0.8"/>
<circle cx="169.58" cy="169.93" r="0.7" fill="#e3195a" fill-opacity="0.8"/>
<circle cx="160.01" cy="165.47" r="0.7" fill="#e3195a" fill-opacity="0.8"/>
<circle cx="169.10" cy="167.29" r="0.7" fill="#e3195a" fill-opacity="0.8"/>
<circle cx="169.80" cy="166.78" r="0.7" fill="#e3195a" fill-opacity="0.8"/>
<circle cx="177.02" cy="183.55" r="0.6" fill="#f0a050" fill-opacity="0.75"/>
<circle cx="186.90" cy="179.24" r="0.6" fill="#f0a050" fill-opacity="0.75"/>
<circle cx="177.22" cy="179.99" r="0.6" fill="#f0a050" fill-opacity="0.75"/>
<circle cx="189.50" cy="185.10" r="0.6" fill="#f0a050" fill-opacity="0.75"/>
<circle cx="177.65" cy="178.96" r="0.6" fill="#f0a050" fill-opacity="0.75"/>
<rect x="122.70" y="118.80" width="81.20" height="10.70" fill="#e6e6e6" stroke="#555" stroke-width="1.1" rx="0" />
<text x="163.30" y="125.80" font-size="6.56" text-anchor="middle" font-weight="bold" font-style="normal" fill="#111" stroke="#111" stroke-width="0.2"><tspan font-style="italic">KMT2A-r</tspan> early</text>
<text x="158.70" y="165.00" font-size="5.6" text-anchor="middle" font-weight="normal" font-style="normal" fill="#555" stroke="#555" stroke-width="0.15" >LMPP</text>
<text x="195.20" y="194.00" font-size="5.6" text-anchor="middle" font-weight="normal" font-style="normal" fill="#555" stroke="#555" stroke-width="0.15" >Mono</text>
<text x="163.30" y="200.60" font-size="4.5" text-anchor="middle" font-weight="normal" font-style="normal" fill="#111" stroke="#111" stroke-width="0.15" >AML073 - Lasry and colleagues 2022</text>
<rect x="205.90" y="118.70" width="9.30" height="1.80" fill="#b2360f" stroke="none" stroke-width="0.5" rx="0" />
<rect x="205.90" y="120.50" width="9.30" height="5.50" fill="#f5cd48" stroke="none" stroke-width="0.5" rx="0" />
<rect x="205.90" y="126.00" width="9.30" height="76.30" fill="#9b9b9b" stroke="none" stroke-width="0.5" rx="0" />
<rect x="205.90" y="118.70" width="9.30" height="83.50" fill="none" stroke="#555" stroke-width="0.6" rx="0" />
<rect x="18.50" y="207.00" width="81.50" height="82.50" fill="#fff" stroke="#a0a0a0" stroke-width="1.0" rx="0" />
<g transform="translate(18.00,216.10)" fill="#ececec" stroke="#ececec" filter="url(#bl05)">
<path d="M25.5,10 C30,6 36,3.3 42.5,3.2 C50,3.6 56,7 59.5,12.5 C61.5,17 61,22 58,25.5 L53.5,21 C53.5,17 51,14 46,12.5 C40,11 32,11 25.5,10 Z" stroke-width="1.2" stroke-linejoin="round"/>
<path d="M37,29.5 C45,27.5 55,27.5 67,37" fill="none" stroke-width="5.5" stroke-linecap="round"/>
<path d="M56,22 L51,30" fill="none" stroke-width="5" stroke-linecap="round"/>
<path d="M26,44 C34,43 42,42 52,40.5" fill="none" stroke-width="3.5" stroke-linecap="round"/>
<ellipse cx="23" cy="44.5" rx="5.5" ry="3.5"/>
<path d="M9,55.5 L19,47.5" fill="none" stroke-width="1.2" stroke-linecap="round"/>
<circle cx="7.5" cy="57.3" r="2.5"/>
<path d="M44,47 C55,44 66,43 71,47 C73,54 72,62 68,65 C60,67 52,66 47,64 C44,58 42,52 44,47 Z" stroke-width="1"/>
<path d="M48,35 L66,37 L70,46 L45,47 Z" stroke-width="1"/>
<path d="M32,64 L53,61" fill="none" stroke-width="1.6" stroke-linecap="round"/>
<circle cx="43.5" cy="20" r="1.8"/>
</g>
<path d="M71,269.5 L76.7,264.5 L83.7,260 L91.5,258.5 L91,264 L89,271.2 L91.5,276.5 L86,280.5 L78,281 L71,277.5 Z" fill="#e23a3c" stroke="#ec6a40" stroke-width="0.8" filter="url(#bl05)"/>
<path d="M75,268 L83,262 L89,261 L87,270 L84,276 L76,276 Z" fill="#d42a3c" filter="url(#bl1)"/>
<ellipse cx="78.5" cy="273.5" rx="4" ry="2.6" fill="#f6d2c8" filter="url(#bl1)"/>
<ellipse cx="84.8" cy="265.3" rx="5" ry="3" transform="rotate(-42 84.8 265.3)" fill="#3a0a50" filter="url(#bl05)"/>
<path d="M86,276 L90,276" fill="none" stroke="#f08a40" stroke-width="1.6" filter="url(#bl05)"/>
<rect x="18.50" y="207.00" width="81.50" height="10.70" fill="#e6e6e6" stroke="#555" stroke-width="1.1" rx="0" />
<text x="59.25" y="214.00" font-size="6.56" text-anchor="middle" font-weight="bold" font-style="normal" fill="#111" stroke="#111" stroke-width="0.2"><tspan font-style="italic">KMT2</tspan>-r committed</text>
<text x="87.60" y="257.80" font-size="5.6" text-anchor="middle" font-weight="normal" font-style="normal" fill="#555" stroke="#555" stroke-width="0.15" >ProMono</text>
<text x="63.80" y="272.50" font-size="5.6" text-anchor="middle" font-weight="normal" font-style="normal" fill="#555" stroke="#555" stroke-width="0.15" >cDC</text>
<text x="92.70" y="282.80" font-size="5.6" text-anchor="middle" font-weight="normal" font-style="normal" fill="#555" stroke="#555" stroke-width="0.15" >Mono</text>
<text x="59.25" y="288.00" font-size="4.5" text-anchor="middle" font-weight="normal" font-style="normal" fill="#111" stroke="#111" stroke-width="0.15" >AML10DX - Lambo and colleagues 2023</text>
<rect x="102.00" y="206.90" width="9.30" height="7.30" fill="#d9550b" stroke="none" stroke-width="0.5" rx="0" />
<rect x="102.00" y="214.20" width="9.30" height="29.60" fill="#f5cd48" stroke="none" stroke-width="0.5" rx="0" />
<rect x="102.00" y="243.80" width="9.30" height="46.20" fill="#9b9b9b" stroke="none" stroke-width="0.5" rx="0" />
<rect x="102.00" y="206.90" width="9.30" height="82.70" fill="none" stroke="#555" stroke-width="0.6" rx="0" />
<rect x="122.70" y="207.00" width="81.20" height="82.50" fill="#fff" stroke="#a0a0a0" stroke-width="1.0" rx="0" />
<g transform="translate(122.20,216.10)" fill="#ececec" stroke="#ececec" filter="url(#bl05)">
<path d="M25.5,10 C30,6 36,3.3 42.5,3.2 C50,3.6 56,7 59.5,12.5 C61.5,17 61,22 58,25.5 L53.5,21 C53.5,17 51,14 46,12.5 C40,11 32,11 25.5,10 Z" stroke-width="1.2" stroke-linejoin="round"/>
<path d="M37,29.5 C45,27.5 55,27.5 67,37" fill="none" stroke-width="5.5" stroke-linecap="round"/>
<path d="M56,22 L51,30" fill="none" stroke-width="5" stroke-linecap="round"/>
<path d="M26,44 C34,43 42,42 52,40.5" fill="none" stroke-width="3.5" stroke-linecap="round"/>
<ellipse cx="23" cy="44.5" rx="5.5" ry="3.5"/>
<path d="M9,55.5 L19,47.5" fill="none" stroke-width="1.2" stroke-linecap="round"/>
<circle cx="7.5" cy="57.3" r="2.5"/>
<path d="M44,47 C55,44 66,43 71,47 C73,54 72,62 68,65 C60,67 52,66 47,64 C44,58 42,52 44,47 Z" stroke-width="1"/>
<path d="M48,35 L66,37 L70,46 L45,47 Z" stroke-width="1"/>
<path d="M32,64 L53,61" fill="none" stroke-width="1.6" stroke-linecap="round"/>
<circle cx="43.5" cy="20" r="1.8"/>
</g>
<path d="M178,266 L184,262 L193,261.5 L193,274 L186,272 L180,269 Z" fill="#d8245a" filter="url(#bl1)"/>
<ellipse cx="189" cy="266.5" rx="4.8" ry="3.6" fill="#2d0845" filter="url(#bl05)"/>
<path d="M189.8,270.5 L191.4,276.8" fill="none" stroke="#e6503a" stroke-width="2" filter="url(#bl05)"/>
<rect x="122.70" y="207.00" width="81.20" height="10.70" fill="#e6e6e6" stroke="#555" stroke-width="1.1" rx="0" />
<text x="163.30" y="214.00" font-size="6.56" text-anchor="middle" font-weight="bold" font-style="normal" fill="#111" stroke="#111" stroke-width="0.2"><tspan font-style="italic">KMT2A-r</tspan> committed</text>
<text x="191.40" y="261.50" font-size="5.6" text-anchor="middle" font-weight="normal" font-style="normal" fill="#555" stroke="#555" stroke-width="0.15" >ProMono</text>
<text x="163.30" y="288.00" font-size="4.5" text-anchor="middle" font-weight="normal" font-style="normal" fill="#111" stroke="#111" stroke-width="0.15" >AML048 - Lasry and colleagues 2022</text>
<rect x="205.90" y="206.90" width="9.30" height="7.20" fill="#d9550b" stroke="none" stroke-width="0.5" rx="0" />
<rect x="205.90" y="214.10" width="9.30" height="37.70" fill="#f5cd48" stroke="none" stroke-width="0.5" rx="0" />
<rect x="205.90" y="251.80" width="9.30" height="38.20" fill="#9b9b9b" stroke="none" stroke-width="0.5" rx="0" />
<rect x="205.90" y="206.90" width="9.30" height="82.70" fill="none" stroke="#555" stroke-width="0.6" rx="0" />
<text x="33.30" y="301.00" font-size="5.56" text-anchor="start" font-weight="normal" font-style="normal" fill="#222" stroke="#222" stroke-width="0.15" >Cell-cycle phase</text>
<rect x="78.80" y="295.30" width="6.60" height="6.60" fill="#9b9b9b" stroke="#555" stroke-width="0.4" rx="0" />
<text x="87.60" y="301.00" font-size="5.56" text-anchor="start" font-weight="normal" font-style="normal" fill="#222" stroke="#222" stroke-width="0.15" >G<tspan font-size="3.8" dy="1.2">0</tspan><tspan dy="-1.2">–G</tspan><tspan font-size="3.8" dy="1.2">1</tspan><tspan dy="-1.2"> phase</tspan></text>
<rect x="123.40" y="295.30" width="6.60" height="6.60" fill="#f5cd48" stroke="#555" stroke-width="0.4" rx="0" />
<text x="132.00" y="301.00" font-size="5.56" text-anchor="start" font-weight="normal" font-style="normal" fill="#222" stroke="#222" stroke-width="0.15" >S phase</text>
<rect x="155.50" y="295.30" width="6.60" height="6.60" fill="#d9550b" stroke="#555" stroke-width="0.4" rx="0" />
<text x="164.00" y="301.00" font-size="5.56" text-anchor="start" font-weight="normal" font-style="normal" fill="#222" stroke="#222" stroke-width="0.15" >G<tspan font-size="3.8" dy="1.2">2</tspan><tspan dy="-1.2">–M phase</tspan></text>
<text x="241.60" y="123.30" font-size="10.9" text-anchor="start" font-weight="bold" font-style="normal" fill="#000" >E</text>
<line x1="265.50" y1="135.60" x2="265.50" y2="203.20" stroke="#888" stroke-width="0.9" />
<line x1="263.80" y1="142.00" x2="265.50" y2="142.00" stroke="#777" stroke-width="0.6" />
<text x="262.30" y="144.00" font-size="5.5" text-anchor="end" font-weight="normal" font-style="normal" fill="#333" stroke="#333" stroke-width="0.15" >3</text>
<line x1="263.80" y1="154.80" x2="265.50" y2="154.80" stroke="#777" stroke-width="0.6" />
<text x="262.30" y="156.80" font-size="5.5" text-anchor="end" font-weight="normal" font-style="normal" fill="#333" stroke="#333" stroke-width="0.15" >2</text>
<line x1="263.80" y1="167.60" x2="265.50" y2="167.60" stroke="#777" stroke-width="0.6" />
<text x="262.30" y="169.60" font-size="5.5" text-anchor="end" font-weight="normal" font-style="normal" fill="#333" stroke="#333" stroke-width="0.15" >1</text>
<line x1="263.80" y1="180.40" x2="265.50" y2="180.40" stroke="#777" stroke-width="0.6" />
<text x="262.30" y="182.40" font-size="5.5" text-anchor="end" font-weight="normal" font-style="normal" fill="#333" stroke="#333" stroke-width="0.15" >0</text>
<line x1="263.80" y1="193.20" x2="265.50" y2="193.20" stroke="#777" stroke-width="0.6" />
<text x="262.30" y="195.20" font-size="5.5" text-anchor="end" font-weight="normal" font-style="normal" fill="#333" stroke="#333" stroke-width="0.15" >−1</text>
<text x="248.80" y="169.40" font-size="5.5" text-anchor="middle" font-weight="normal" font-style="normal" fill="#222" stroke="#222" stroke-width="0.15" transform="rotate(-90 248.8 169.40)" dy="1.9">Signature enrichment</text>
<rect x="265.40" y="121.40" width="67.40" height="13.70" fill="#ececec" stroke="#444" stroke-width="1.1" rx="0.3" />
<text x="299.10" y="126.90" font-size="5.0" text-anchor="middle" font-weight="normal" font-style="normal" fill="#222" stroke="#222" stroke-width="0.15" >Pan-AML LSC signature</text>
<text x="299.10" y="133.20" font-size="5.0" text-anchor="middle" font-weight="normal" font-style="normal" fill="#222" stroke="#222" stroke-width="0.15" >Ng and colleagues 2016</text>
<text x="299.10" y="140.00" font-size="5.2" text-anchor="middle" font-weight="normal" font-style="normal" fill="#222" stroke="#222" stroke-width="0.15" >9.3e−14</text>
<path d="M283.85,142.10 L283.85,140.80 L314.35,140.80 L314.35,142.10" fill="none" stroke="#333" stroke-width="0.5"/>
<line x1="283.85" y1="150.00" x2="283.85" y2="184.00" stroke="#333" stroke-width="0.5" />
<rect x="272.40" y="154.80" width="22.90" height="12.80" fill="#e84a33" stroke="#333" stroke-width="0.5" rx="0" />
<line x1="272.40" y1="158.80" x2="295.30" y2="158.80" stroke="#222" stroke-width="0.9" />
<g fill="#000" fill-opacity="0.9"><circle cx="283.82" cy="150.00" r="0.72"/><circle cx="283.59" cy="184.00" r="0.72"/><circle cx="281.24" cy="158.46" r="0.72"/><circle cx="292.59" cy="165.79" r="0.72"/><circle cx="279.37" cy="182.54" r="0.72"/><circle cx="279.80" cy="158.51" r="0.72"/><circle cx="288.15" cy="161.65" r="0.72"/><circle cx="279.91" cy="156.62" r="0.72"/><circle cx="289.72" cy="160.66" r="0.72"/><circle cx="280.79" cy="158.55" r="0.72"/><circle cx="290.24" cy="159.21" r="0.72"/><circle cx="284.36" cy="159.30" r="0.72"/><circle cx="291.53" cy="163.18" r="0.72"/><circle cx="279.22" cy="169.05" r="0.72"/><circle cx="277.95" cy="153.68" r="0.72"/><circle cx="289.00" cy="156.34" r="0.72"/><circle cx="275.79" cy="157.15" r="0.72"/><circle cx="276.46" cy="152.10" r="0.72"/><circle cx="279.89" cy="151.11" r="0.72"/><circle cx="287.75" cy="162.72" r="0.72"/><circle cx="288.45" cy="172.62" r="0.72"/><circle cx="275.97" cy="152.72" r="0.72"/><circle cx="288.24" cy="155.31" r="0.72"/><circle cx="276.32" cy="167.90" r="0.72"/><circle cx="290.30" cy="162.31" r="0.72"/><circle cx="290.08" cy="150.05" r="0.72"/><circle cx="291.70" cy="156.96" r="0.72"/></g>
<line x1="314.35" y1="172.40" x2="314.35" y2="195.70" stroke="#333" stroke-width="0.5" />
<rect x="303.00" y="183.70" width="22.70" height="6.70" fill="#46b6d4" stroke="#333" stroke-width="0.5" rx="0" />
<line x1="303.00" y1="187.70" x2="325.70" y2="187.70" stroke="#222" stroke-width="0.9" />
<g fill="#000" fill-opacity="0.9"><circle cx="314.32" cy="172.40" r="0.72"/><circle cx="314.80" cy="195.70" r="0.72"/><circle cx="309.89" cy="187.74" r="0.72"/><circle cx="312.06" cy="191.73" r="0.72"/><circle cx="316.07" cy="190.42" r="0.72"/><circle cx="306.03" cy="192.20" r="0.72"/><circle cx="314.59" cy="181.81" r="0.72"/><circle cx="307.14" cy="186.96" r="0.72"/><circle cx="321.10" cy="185.48" r="0.72"/><circle cx="312.22" cy="177.89" r="0.72"/><circle cx="319.09" cy="186.41" r="0.72"/><circle cx="307.26" cy="182.51" r="0.72"/><circle cx="314.29" cy="177.99" r="0.72"/><circle cx="314.90" cy="181.01" r="0.72"/><circle cx="305.23" cy="187.14" r="0.72"/><circle cx="308.83" cy="191.50" r="0.72"/><circle cx="306.80" cy="186.91" r="0.72"/><circle cx="305.39" cy="187.67" r="0.72"/><circle cx="309.94" cy="194.65" r="0.72"/><circle cx="306.38" cy="192.52" r="0.72"/><circle cx="314.71" cy="181.89" r="0.72"/><circle cx="317.81" cy="183.52" r="0.72"/><circle cx="317.55" cy="194.34" r="0.72"/><circle cx="314.23" cy="190.39" r="0.72"/><circle cx="314.36" cy="188.48" r="0.72"/><circle cx="312.55" cy="187.18" r="0.72"/><circle cx="307.76" cy="190.44" r="0.72"/><circle cx="309.95" cy="178.61" r="0.72"/><circle cx="315.48" cy="181.78" r="0.72"/><circle cx="320.57" cy="187.63" r="0.72"/><circle cx="322.14" cy="184.43" r="0.72"/><circle cx="320.10" cy="183.33" r="0.72"/><circle cx="314.80" cy="191.37" r="0.72"/><circle cx="317.54" cy="177.40" r="0.72"/><circle cx="312.17" cy="195.63" r="0.72"/><circle cx="313.12" cy="188.00" r="0.72"/><circle cx="322.25" cy="192.62" r="0.72"/><circle cx="319.77" cy="191.74" r="0.72"/><circle cx="318.11" cy="176.34" r="0.72"/><circle cx="321.30" cy="193.92" r="0.72"/><circle cx="322.38" cy="189.88" r="0.72"/><circle cx="316.88" cy="187.73" r="0.72"/><circle cx="312.23" cy="193.42" r="0.72"/><circle cx="313.11" cy="185.67" r="0.72"/><circle cx="314.44" cy="187.30" r="0.72"/><circle cx="322.81" cy="190.67" r="0.72"/><circle cx="319.62" cy="188.09" r="0.72"/><circle cx="318.76" cy="194.83" r="0.72"/><circle cx="321.27" cy="184.72" r="0.72"/><circle cx="317.03" cy="188.78" r="0.72"/><circle cx="309.91" cy="186.74" r="0.72"/><circle cx="315.14" cy="185.80" r="0.72"/><circle cx="321.69" cy="183.77" r="0.72"/><circle cx="314.72" cy="184.70" r="0.72"/><circle cx="313.15" cy="184.84" r="0.72"/><circle cx="311.04" cy="191.98" r="0.72"/><circle cx="317.13" cy="186.33" r="0.72"/><circle cx="321.66" cy="193.03" r="0.72"/><circle cx="314.57" cy="192.73" r="0.72"/><circle cx="314.99" cy="186.99" r="0.72"/><circle cx="308.97" cy="193.78" r="0.72"/><circle cx="310.52" cy="189.76" r="0.72"/><circle cx="312.62" cy="189.73" r="0.72"/><circle cx="306.54" cy="186.73" r="0.72"/><circle cx="315.15" cy="191.66" r="0.72"/><circle cx="315.56" cy="191.70" r="0.72"/><circle cx="316.61" cy="181.37" r="0.72"/><circle cx="313.64" cy="190.29" r="0.72"/><circle cx="313.91" cy="180.52" r="0.72"/><circle cx="310.85" cy="185.46" r="0.72"/><circle cx="314.59" cy="187.89" r="0.72"/><circle cx="312.32" cy="191.56" r="0.72"/><circle cx="311.55" cy="186.98" r="0.72"/><circle cx="321.24" cy="187.27" r="0.72"/><circle cx="314.19" cy="188.20" r="0.72"/><circle cx="311.24" cy="194.65" r="0.72"/><circle cx="318.91" cy="192.26" r="0.72"/><circle cx="307.85" cy="187.34" r="0.72"/><circle cx="313.34" cy="192.20" r="0.72"/><circle cx="313.37" cy="192.70" r="0.72"/><circle cx="318.72" cy="189.75" r="0.72"/><circle cx="322.61" cy="190.72" r="0.72"/><circle cx="318.72" cy="190.17" r="0.72"/><circle cx="311.68" cy="190.49" r="0.72"/><circle cx="317.36" cy="191.79" r="0.72"/><circle cx="318.69" cy="179.78" r="0.72"/><circle cx="314.35" cy="162.00" r="0.72"/></g>
<line x1="265.20" y1="203.20" x2="333.00" y2="203.20" stroke="#888" stroke-width="0.9" />
<rect x="335.50" y="121.40" width="67.40" height="13.70" fill="#ececec" stroke="#444" stroke-width="1.1" rx="0.3" />
<text x="369.20" y="126.90" font-size="5.0" text-anchor="middle" font-weight="normal" font-style="normal" fill="#222" stroke="#222" stroke-width="0.15" >Quiescent LSPC signature</text>
<text x="369.20" y="133.20" font-size="5.0" text-anchor="middle" font-weight="normal" font-style="normal" fill="#222" stroke="#222" stroke-width="0.15" >Zeng and colleagues 2022</text>
<text x="369.20" y="140.00" font-size="5.2" text-anchor="middle" font-weight="normal" font-style="normal" fill="#222" stroke="#222" stroke-width="0.15" >3.8e−13</text>
<path d="M353.95,142.10 L353.95,140.80 L384.45,140.80 L384.45,142.10" fill="none" stroke="#333" stroke-width="0.5"/>
<line x1="353.95" y1="142.50" x2="353.95" y2="183.30" stroke="#333" stroke-width="0.5" />
<rect x="342.50" y="151.00" width="22.90" height="19.80" fill="#e84a33" stroke="#333" stroke-width="0.5" rx="0" />
<line x1="342.50" y1="166.00" x2="365.40" y2="166.00" stroke="#222" stroke-width="0.9" />
<g fill="#000" fill-opacity="0.9"><circle cx="353.97" cy="142.50" r="0.72"/><circle cx="354.24" cy="183.30" r="0.72"/><circle cx="357.57" cy="145.03" r="0.72"/><circle cx="359.43" cy="167.12" r="0.72"/><circle cx="357.22" cy="147.71" r="0.72"/><circle cx="360.84" cy="173.24" r="0.72"/><circle cx="344.53" cy="161.70" r="0.72"/><circle cx="353.91" cy="168.11" r="0.72"/><circle cx="360.78" cy="144.68" r="0.72"/><circle cx="358.67" cy="150.90" r="0.72"/><circle cx="360.86" cy="158.67" r="0.72"/><circle cx="353.12" cy="153.69" r="0.72"/><circle cx="353.19" cy="156.16" r="0.72"/><circle cx="351.85" cy="163.74" r="0.72"/><circle cx="354.90" cy="152.76" r="0.72"/><circle cx="359.07" cy="155.36" r="0.72"/><circle cx="360.29" cy="175.44" r="0.72"/><circle cx="348.92" cy="148.52" r="0.72"/><circle cx="350.18" cy="166.05" r="0.72"/><circle cx="355.36" cy="178.94" r="0.72"/><circle cx="347.28" cy="182.69" r="0.72"/><circle cx="359.92" cy="178.51" r="0.72"/><circle cx="360.25" cy="159.14" r="0.72"/><circle cx="352.64" cy="176.54" r="0.72"/><circle cx="361.81" cy="163.21" r="0.72"/><circle cx="355.18" cy="171.02" r="0.72"/><circle cx="353.90" cy="166.34" r="0.72"/></g>
<line x1="384.45" y1="166.00" x2="384.45" y2="198.00" stroke="#333" stroke-width="0.5" />
<rect x="373.10" y="184.00" width="22.70" height="6.10" fill="#46b6d4" stroke="#333" stroke-width="0.5" rx="0" />
<line x1="373.10" y1="187.20" x2="395.80" y2="187.20" stroke="#222" stroke-width="0.9" />
<g fill="#000" fill-opacity="0.9"><circle cx="384.95" cy="166.00" r="0.72"/><circle cx="384.78" cy="198.00" r="0.72"/><circle cx="384.60" cy="169.94" r="0.72"/><circle cx="384.74" cy="182.94" r="0.72"/><circle cx="381.82" cy="185.25" r="0.72"/><circle cx="386.00" cy="182.67" r="0.72"/><circle cx="386.84" cy="180.03" r="0.72"/><circle cx="384.73" cy="196.93" r="0.72"/><circle cx="382.77" cy="191.11" r="0.72"/><circle cx="385.55" cy="190.00" r="0.72"/><circle cx="389.89" cy="178.06" r="0.72"/><circle cx="384.23" cy="182.61" r="0.72"/><circle cx="391.54" cy="180.73" r="0.72"/><circle cx="381.61" cy="189.75" r="0.72"/><circle cx="380.55" cy="178.22" r="0.72"/><circle cx="381.06" cy="185.48" r="0.72"/><circle cx="384.60" cy="196.41" r="0.72"/><circle cx="377.12" cy="185.94" r="0.72"/><circle cx="389.20" cy="193.20" r="0.72"/><circle cx="392.40" cy="182.52" r="0.72"/><circle cx="378.63" cy="191.16" r="0.72"/><circle cx="380.78" cy="183.84" r="0.72"/><circle cx="379.79" cy="181.32" r="0.72"/><circle cx="378.40" cy="186.77" r="0.72"/><circle cx="382.06" cy="182.58" r="0.72"/><circle cx="392.33" cy="182.27" r="0.72"/><circle cx="382.77" cy="186.24" r="0.72"/><circle cx="389.88" cy="186.09" r="0.72"/><circle cx="375.50" cy="184.54" r="0.72"/><circle cx="381.79" cy="194.34" r="0.72"/><circle cx="387.35" cy="190.81" r="0.72"/><circle cx="379.80" cy="181.67" r="0.72"/><circle cx="381.06" cy="180.89" r="0.72"/><circle cx="387.25" cy="187.28" r="0.72"/><circle cx="385.10" cy="170.54" r="0.72"/><circle cx="382.89" cy="183.86" r="0.72"/><circle cx="389.23" cy="189.30" r="0.72"/><circle cx="377.18" cy="189.21" r="0.72"/><circle cx="384.86" cy="189.66" r="0.72"/><circle cx="390.46" cy="188.99" r="0.72"/><circle cx="378.36" cy="180.37" r="0.72"/><circle cx="377.17" cy="181.33" r="0.72"/><circle cx="388.55" cy="187.77" r="0.72"/><circle cx="382.03" cy="182.85" r="0.72"/><circle cx="377.03" cy="189.10" r="0.72"/><circle cx="391.49" cy="190.62" r="0.72"/><circle cx="383.60" cy="183.20" r="0.72"/><circle cx="382.36" cy="184.92" r="0.72"/><circle cx="385.37" cy="197.04" r="0.72"/><circle cx="392.42" cy="190.72" r="0.72"/><circle cx="380.85" cy="180.78" r="0.72"/><circle cx="376.19" cy="189.76" r="0.72"/><circle cx="382.24" cy="196.06" r="0.72"/><circle cx="391.15" cy="183.09" r="0.72"/><circle cx="386.36" cy="188.90" r="0.72"/><circle cx="392.28" cy="183.33" r="0.72"/><circle cx="381.93" cy="175.05" r="0.72"/><circle cx="382.35" cy="187.54" r="0.72"/><circle cx="380.82" cy="186.51" r="0.72"/><circle cx="390.98" cy="183.75" r="0.72"/><circle cx="381.37" cy="178.42" r="0.72"/><circle cx="378.26" cy="188.06" r="0.72"/><circle cx="393.16" cy="185.19" r="0.72"/><circle cx="380.65" cy="189.68" r="0.72"/><circle cx="385.07" cy="184.93" r="0.72"/><circle cx="382.28" cy="186.27" r="0.72"/><circle cx="377.39" cy="185.70" r="0.72"/><circle cx="390.61" cy="188.24" r="0.72"/><circle cx="378.78" cy="184.99" r="0.72"/><circle cx="380.60" cy="190.20" r="0.72"/><circle cx="387.58" cy="187.31" r="0.72"/><circle cx="381.47" cy="188.52" r="0.72"/><circle cx="377.70" cy="191.53" r="0.72"/><circle cx="381.15" cy="193.66" r="0.72"/><circle cx="383.38" cy="188.52" r="0.72"/><circle cx="390.62" cy="184.96" r="0.72"/><circle cx="381.67" cy="188.19" r="0.72"/><circle cx="388.45" cy="184.45" r="0.72"/><circle cx="380.99" cy="178.23" r="0.72"/><circle cx="389.88" cy="195.96" r="0.72"/><circle cx="383.63" cy="183.63" r="0.72"/><circle cx="377.41" cy="187.09" r="0.72"/><circle cx="392.00" cy="186.16" r="0.72"/><circle cx="385.95" cy="183.48" r="0.72"/><circle cx="386.41" cy="184.68" r="0.72"/><circle cx="379.28" cy="189.96" r="0.72"/></g>
<line x1="335.30" y1="203.20" x2="403.10" y2="203.20" stroke="#888" stroke-width="0.9" />
<line x1="265.50" y1="223.40" x2="265.50" y2="290.80" stroke="#888" stroke-width="0.9" />
<line x1="263.80" y1="229.90" x2="265.50" y2="229.90" stroke="#777" stroke-width="0.6" />
<text x="262.30" y="231.90" font-size="5.5" text-anchor="end" font-weight="normal" font-style="normal" fill="#333" stroke="#333" stroke-width="0.15" >2</text>
<line x1="263.80" y1="243.70" x2="265.50" y2="243.70" stroke="#777" stroke-width="0.6" />
<text x="262.30" y="245.70" font-size="5.5" text-anchor="end" font-weight="normal" font-style="normal" fill="#333" stroke="#333" stroke-width="0.15" >1</text>
<line x1="263.80" y1="257.50" x2="265.50" y2="257.50" stroke="#777" stroke-width="0.6" />
<text x="262.30" y="259.50" font-size="5.5" text-anchor="end" font-weight="normal" font-style="normal" fill="#333" stroke="#333" stroke-width="0.15" >0</text>
<line x1="263.80" y1="271.30" x2="265.50" y2="271.30" stroke="#777" stroke-width="0.6" />
<text x="262.30" y="273.30" font-size="5.5" text-anchor="end" font-weight="normal" font-style="normal" fill="#333" stroke="#333" stroke-width="0.15" >−1</text>
<line x1="263.80" y1="285.10" x2="265.50" y2="285.10" stroke="#777" stroke-width="0.6" />
<text x="262.30" y="287.10" font-size="5.5" text-anchor="end" font-weight="normal" font-style="normal" fill="#333" stroke="#333" stroke-width="0.15" >−2</text>
<text x="248.80" y="257.10" font-size="5.5" text-anchor="middle" font-weight="normal" font-style="normal" fill="#222" stroke="#222" stroke-width="0.15" transform="rotate(-90 248.8 257.10)" dy="1.9">Signature enrichment</text>
<rect x="265.40" y="209.40" width="67.40" height="13.50" fill="#ececec" stroke="#444" stroke-width="1.1" rx="1.0" />
<line x1="266.40" y1="209.40" x2="331.80" y2="209.40" stroke="#a8a8a8" stroke-width="1.1" />
<text x="299.10" y="214.90" font-size="5.0" text-anchor="middle" font-weight="normal" font-style="normal" fill="#222" stroke="#222" stroke-width="0.15" ><tspan font-style="italic">KMT2A-r</tspan> LSC signature</text>
<text x="299.10" y="221.20" font-size="5.0" text-anchor="middle" font-weight="normal" font-style="normal" fill="#222" stroke="#222" stroke-width="0.15" >Somervaille 2009</text>
<text x="299.10" y="227.80" font-size="5.2" text-anchor="middle" font-weight="normal" font-style="normal" fill="#222" stroke="#222" stroke-width="0.15" >0.00013</text>
<path d="M283.85,229.90 L283.85,228.60 L314.35,228.60 L314.35,229.90" fill="none" stroke="#333" stroke-width="0.5"/>
<line x1="283.85" y1="240.80" x2="283.85" y2="284.60" stroke="#333" stroke-width="0.5" />
<rect x="272.40" y="261.00" width="22.90" height="14.60" fill="#e84a33" stroke="#333" stroke-width="0.5" rx="0" />
<line x1="272.40" y1="268.20" x2="295.30" y2="268.20" stroke="#222" stroke-width="0.9" />
<g fill="#000" fill-opacity="0.9"><circle cx="284.30" cy="240.80" r="0.72"/><circle cx="283.40" cy="284.60" r="0.72"/><circle cx="280.38" cy="253.37" r="0.72"/><circle cx="289.07" cy="266.98" r="0.72"/><circle cx="284.92" cy="255.15" r="0.72"/><circle cx="280.73" cy="279.73" r="0.72"/><circle cx="277.75" cy="264.31" r="0.72"/><circle cx="290.51" cy="271.42" r="0.72"/><circle cx="276.84" cy="260.63" r="0.72"/><circle cx="284.76" cy="284.02" r="0.72"/><circle cx="280.31" cy="259.17" r="0.72"/><circle cx="276.55" cy="278.91" r="0.72"/><circle cx="276.75" cy="265.00" r="0.72"/><circle cx="287.71" cy="276.10" r="0.72"/><circle cx="291.66" cy="265.76" r="0.72"/><circle cx="288.35" cy="280.04" r="0.72"/><circle cx="278.44" cy="252.31" r="0.72"/><circle cx="287.30" cy="267.72" r="0.72"/><circle cx="286.96" cy="271.07" r="0.72"/><circle cx="286.72" cy="260.90" r="0.72"/><circle cx="287.26" cy="278.06" r="0.72"/><circle cx="281.01" cy="268.43" r="0.72"/><circle cx="276.69" cy="263.00" r="0.72"/><circle cx="291.50" cy="262.75" r="0.72"/><circle cx="275.05" cy="266.32" r="0.72"/><circle cx="277.60" cy="249.51" r="0.72"/><circle cx="280.14" cy="272.35" r="0.72"/><circle cx="283.85" cy="235.20" r="0.72"/></g>
<line x1="314.35" y1="231.90" x2="314.35" y2="279.00" stroke="#333" stroke-width="0.5" />
<rect x="303.00" y="244.90" width="22.70" height="19.50" fill="#46b6d4" stroke="#333" stroke-width="0.5" rx="0" />
<line x1="303.00" y1="252.70" x2="325.70" y2="252.70" stroke="#222" stroke-width="0.9" />
<g fill="#000" fill-opacity="0.9"><circle cx="314.21" cy="231.90" r="0.72"/><circle cx="313.80" cy="279.00" r="0.72"/><circle cx="310.96" cy="261.68" r="0.72"/><circle cx="320.62" cy="246.24" r="0.72"/><circle cx="315.63" cy="245.06" r="0.72"/><circle cx="313.12" cy="250.16" r="0.72"/><circle cx="317.51" cy="240.78" r="0.72"/><circle cx="320.72" cy="252.29" r="0.72"/><circle cx="319.62" cy="253.27" r="0.72"/><circle cx="321.10" cy="251.63" r="0.72"/><circle cx="316.36" cy="257.29" r="0.72"/><circle cx="307.62" cy="264.07" r="0.72"/><circle cx="319.85" cy="256.19" r="0.72"/><circle cx="318.84" cy="261.43" r="0.72"/><circle cx="312.84" cy="273.68" r="0.72"/><circle cx="318.55" cy="265.31" r="0.72"/><circle cx="306.75" cy="258.83" r="0.72"/><circle cx="322.08" cy="241.34" r="0.72"/><circle cx="317.34" cy="269.55" r="0.72"/><circle cx="316.78" cy="250.56" r="0.72"/><circle cx="318.06" cy="247.62" r="0.72"/><circle cx="312.99" cy="254.25" r="0.72"/><circle cx="307.29" cy="249.98" r="0.72"/><circle cx="318.22" cy="253.06" r="0.72"/><circle cx="320.08" cy="247.96" r="0.72"/><circle cx="323.29" cy="251.30" r="0.72"/><circle cx="316.35" cy="272.63" r="0.72"/><circle cx="306.75" cy="241.11" r="0.72"/><circle cx="311.66" cy="249.42" r="0.72"/><circle cx="310.96" cy="243.64" r="0.72"/><circle cx="307.59" cy="258.32" r="0.72"/><circle cx="309.50" cy="246.38" r="0.72"/><circle cx="313.30" cy="253.70" r="0.72"/><circle cx="320.81" cy="271.80" r="0.72"/><circle cx="321.34" cy="244.72" r="0.72"/><circle cx="308.09" cy="263.47" r="0.72"/><circle cx="319.64" cy="239.50" r="0.72"/><circle cx="315.25" cy="247.16" r="0.72"/><circle cx="317.52" cy="253.34" r="0.72"/><circle cx="316.10" cy="243.05" r="0.72"/><circle cx="320.46" cy="259.24" r="0.72"/><circle cx="311.88" cy="262.58" r="0.72"/><circle cx="309.06" cy="261.35" r="0.72"/><circle cx="309.16" cy="264.69" r="0.72"/><circle cx="318.13" cy="257.47" r="0.72"/><circle cx="311.14" cy="245.33" r="0.72"/><circle cx="313.76" cy="255.20" r="0.72"/><circle cx="306.43" cy="246.42" r="0.72"/><circle cx="305.40" cy="260.01" r="0.72"/><circle cx="306.43" cy="251.39" r="0.72"/><circle cx="315.49" cy="243.58" r="0.72"/><circle cx="313.27" cy="266.97" r="0.72"/><circle cx="309.00" cy="264.33" r="0.72"/><circle cx="322.33" cy="250.72" r="0.72"/><circle cx="317.10" cy="252.15" r="0.72"/><circle cx="309.68" cy="245.75" r="0.72"/><circle cx="307.95" cy="242.80" r="0.72"/><circle cx="320.71" cy="257.44" r="0.72"/><circle cx="316.97" cy="249.78" r="0.72"/><circle cx="320.48" cy="262.46" r="0.72"/><circle cx="319.48" cy="261.35" r="0.72"/><circle cx="320.56" cy="248.41" r="0.72"/><circle cx="308.34" cy="252.02" r="0.72"/><circle cx="319.71" cy="238.58" r="0.72"/><circle cx="315.29" cy="246.20" r="0.72"/><circle cx="312.18" cy="266.48" r="0.72"/><circle cx="305.82" cy="258.45" r="0.72"/><circle cx="315.53" cy="242.45" r="0.72"/><circle cx="317.31" cy="232.33" r="0.72"/><circle cx="309.22" cy="234.02" r="0.72"/><circle cx="310.53" cy="253.36" r="0.72"/><circle cx="317.85" cy="247.03" r="0.72"/><circle cx="307.99" cy="249.53" r="0.72"/><circle cx="307.66" cy="267.39" r="0.72"/><circle cx="309.50" cy="269.26" r="0.72"/><circle cx="318.54" cy="256.95" r="0.72"/><circle cx="321.12" cy="253.24" r="0.72"/><circle cx="310.26" cy="256.55" r="0.72"/><circle cx="316.90" cy="236.42" r="0.72"/><circle cx="311.82" cy="236.15" r="0.72"/><circle cx="313.18" cy="251.18" r="0.72"/><circle cx="320.90" cy="237.75" r="0.72"/><circle cx="313.30" cy="259.51" r="0.72"/><circle cx="315.45" cy="264.13" r="0.72"/><circle cx="306.66" cy="246.64" r="0.72"/><circle cx="311.17" cy="261.25" r="0.72"/></g>
<line x1="265.20" y1="290.80" x2="333.00" y2="290.80" stroke="#888" stroke-width="0.9" />
<rect x="335.50" y="209.40" width="67.40" height="13.50" fill="#ececec" stroke="#444" stroke-width="1.1" rx="1.0" />
<line x1="336.50" y1="209.40" x2="401.90" y2="209.40" stroke="#a8a8a8" stroke-width="1.1" />
<text x="369.20" y="214.90" font-size="5.0" text-anchor="middle" font-weight="normal" font-style="normal" fill="#222" stroke="#222" stroke-width="0.15" >Cell-cycle progression</text>
<text x="369.20" y="221.20" font-size="5.0" text-anchor="middle" font-weight="normal" font-style="normal" fill="#222" stroke="#222" stroke-width="0.15" >Hallmark E2F targets</text>
<text x="369.20" y="227.80" font-size="5.2" text-anchor="middle" font-weight="normal" font-style="normal" fill="#222" stroke="#222" stroke-width="0.15" >9.5e−05</text>
<path d="M353.95,229.90 L353.95,228.60 L384.45,228.60 L384.45,229.90" fill="none" stroke="#333" stroke-width="0.5"/>
<line x1="353.95" y1="237.50" x2="353.95" y2="283.50" stroke="#333" stroke-width="0.5" />
<rect x="342.50" y="256.10" width="22.90" height="22.40" fill="#e84a33" stroke="#333" stroke-width="0.5" rx="0" />
<line x1="342.50" y1="271.10" x2="365.40" y2="271.10" stroke="#222" stroke-width="0.9" />
<g fill="#000" fill-opacity="0.9"><circle cx="353.90" cy="237.50" r="0.72"/><circle cx="354.52" cy="283.50" r="0.72"/><circle cx="361.50" cy="251.26" r="0.72"/><circle cx="359.82" cy="265.07" r="0.72"/><circle cx="355.94" cy="281.19" r="0.72"/><circle cx="362.44" cy="264.18" r="0.72"/><circle cx="351.09" cy="244.94" r="0.72"/><circle cx="350.95" cy="274.28" r="0.72"/><circle cx="348.00" cy="274.36" r="0.72"/><circle cx="357.37" cy="268.23" r="0.72"/><circle cx="356.95" cy="263.81" r="0.72"/><circle cx="351.50" cy="273.60" r="0.72"/><circle cx="354.45" cy="254.55" r="0.72"/><circle cx="355.14" cy="261.89" r="0.72"/><circle cx="347.97" cy="263.95" r="0.72"/><circle cx="361.33" cy="276.55" r="0.72"/><circle cx="360.66" cy="262.60" r="0.72"/><circle cx="349.23" cy="268.45" r="0.72"/><circle cx="354.99" cy="270.89" r="0.72"/><circle cx="346.55" cy="274.59" r="0.72"/><circle cx="347.77" cy="246.86" r="0.72"/><circle cx="352.18" cy="269.09" r="0.72"/><circle cx="360.67" cy="279.85" r="0.72"/><circle cx="357.52" cy="243.64" r="0.72"/><circle cx="346.85" cy="262.07" r="0.72"/><circle cx="346.31" cy="269.39" r="0.72"/><circle cx="347.88" cy="279.89" r="0.72"/></g>
<line x1="384.45" y1="234.10" x2="384.45" y2="280.10" stroke="#333" stroke-width="0.5" />
<rect x="373.10" y="243.70" width="22.70" height="20.70" fill="#46b6d4" stroke="#333" stroke-width="0.5" rx="0" />
<line x1="373.10" y1="253.20" x2="395.80" y2="253.20" stroke="#222" stroke-width="0.9" />
<g fill="#000" fill-opacity="0.9"><circle cx="385.00" cy="234.10" r="0.72"/><circle cx="384.53" cy="280.10" r="0.72"/><circle cx="389.00" cy="238.47" r="0.72"/><circle cx="377.71" cy="272.25" r="0.72"/><circle cx="380.70" cy="275.31" r="0.72"/><circle cx="386.24" cy="251.15" r="0.72"/><circle cx="379.00" cy="255.32" r="0.72"/><circle cx="383.10" cy="245.04" r="0.72"/><circle cx="389.62" cy="278.35" r="0.72"/><circle cx="390.61" cy="238.68" r="0.72"/><circle cx="381.78" cy="266.95" r="0.72"/><circle cx="388.03" cy="277.48" r="0.72"/><circle cx="378.05" cy="239.87" r="0.72"/><circle cx="391.17" cy="272.94" r="0.72"/><circle cx="386.43" cy="252.31" r="0.72"/><circle cx="376.94" cy="248.25" r="0.72"/><circle cx="377.48" cy="244.02" r="0.72"/><circle cx="380.99" cy="275.76" r="0.72"/><circle cx="379.09" cy="241.77" r="0.72"/><circle cx="385.89" cy="263.77" r="0.72"/><circle cx="377.06" cy="255.82" r="0.72"/><circle cx="390.16" cy="255.47" r="0.72"/><circle cx="380.64" cy="261.68" r="0.72"/><circle cx="387.26" cy="272.89" r="0.72"/><circle cx="391.38" cy="246.30" r="0.72"/><circle cx="385.16" cy="259.61" r="0.72"/><circle cx="392.30" cy="241.83" r="0.72"/><circle cx="378.74" cy="268.58" r="0.72"/><circle cx="384.48" cy="254.54" r="0.72"/><circle cx="377.69" cy="274.35" r="0.72"/><circle cx="387.52" cy="266.06" r="0.72"/><circle cx="378.81" cy="238.24" r="0.72"/><circle cx="390.43" cy="265.18" r="0.72"/><circle cx="386.06" cy="274.47" r="0.72"/><circle cx="379.64" cy="266.59" r="0.72"/><circle cx="391.72" cy="260.12" r="0.72"/><circle cx="378.23" cy="248.93" r="0.72"/><circle cx="381.81" cy="250.52" r="0.72"/><circle cx="382.34" cy="257.65" r="0.72"/><circle cx="385.96" cy="252.08" r="0.72"/><circle cx="381.29" cy="254.67" r="0.72"/><circle cx="391.93" cy="271.75" r="0.72"/><circle cx="375.82" cy="255.60" r="0.72"/><circle cx="380.72" cy="268.51" r="0.72"/><circle cx="381.06" cy="273.15" r="0.72"/><circle cx="385.62" cy="240.05" r="0.72"/><circle cx="384.99" cy="253.20" r="0.72"/><circle cx="376.64" cy="239.16" r="0.72"/><circle cx="391.02" cy="242.43" r="0.72"/><circle cx="386.99" cy="256.83" r="0.72"/><circle cx="389.79" cy="244.26" r="0.72"/><circle cx="391.06" cy="263.61" r="0.72"/><circle cx="381.75" cy="276.84" r="0.72"/><circle cx="389.17" cy="243.61" r="0.72"/><circle cx="387.03" cy="251.88" r="0.72"/><circle cx="382.84" cy="240.61" r="0.72"/><circle cx="377.51" cy="270.43" r="0.72"/><circle cx="393.39" cy="245.44" r="0.72"/><circle cx="384.13" cy="265.92" r="0.72"/><circle cx="379.63" cy="244.73" r="0.72"/><circle cx="381.74" cy="262.53" r="0.72"/><circle cx="391.52" cy="254.54" r="0.72"/><circle cx="383.56" cy="254.73" r="0.72"/><circle cx="380.82" cy="260.54" r="0.72"/><circle cx="380.69" cy="256.25" r="0.72"/><circle cx="380.87" cy="258.66" r="0.72"/><circle cx="392.74" cy="250.08" r="0.72"/><circle cx="378.47" cy="247.23" r="0.72"/><circle cx="385.97" cy="249.75" r="0.72"/><circle cx="388.91" cy="269.00" r="0.72"/><circle cx="383.08" cy="251.95" r="0.72"/><circle cx="384.16" cy="257.48" r="0.72"/><circle cx="391.95" cy="248.55" r="0.72"/><circle cx="375.38" cy="251.09" r="0.72"/><circle cx="378.71" cy="266.04" r="0.72"/><circle cx="379.11" cy="250.22" r="0.72"/><circle cx="383.14" cy="279.36" r="0.72"/><circle cx="391.16" cy="260.24" r="0.72"/><circle cx="386.57" cy="275.02" r="0.72"/><circle cx="392.81" cy="262.22" r="0.72"/><circle cx="385.77" cy="279.12" r="0.72"/><circle cx="390.68" cy="267.88" r="0.72"/><circle cx="378.60" cy="248.24" r="0.72"/><circle cx="385.13" cy="260.88" r="0.72"/><circle cx="391.15" cy="270.29" r="0.72"/><circle cx="379.88" cy="236.20" r="0.72"/></g>
<line x1="335.30" y1="290.80" x2="403.10" y2="290.80" stroke="#888" stroke-width="0.9" />
<text x="246.20" y="302.60" font-size="5.5" text-anchor="start" font-weight="normal" font-style="normal" fill="#222" stroke="#222" stroke-width="0.15" >Subgroup</text>
<line x1="275.20" y1="296.80" x2="275.20" y2="304.00" stroke="#333" stroke-width="0.4" />
<rect x="272.10" y="297.90" width="6.20" height="4.80" fill="#e84a33" stroke="#333" stroke-width="0.4" rx="0" />
<line x1="272.10" y1="300.30" x2="278.30" y2="300.30" stroke="#333" stroke-width="0.6" />
<text x="280.40" y="302.60" font-size="5.56" text-anchor="start" font-weight="normal" font-style="normal" fill="#222" stroke="#222" stroke-width="0.15" >KMT2A-r early (<tspan font-style="italic">n</tspan> = 27)</text>
<line x1="341.60" y1="296.80" x2="341.60" y2="304.00" stroke="#333" stroke-width="0.4" />
<rect x="338.50" y="297.90" width="6.20" height="4.80" fill="#46b6d4" stroke="#333" stroke-width="0.4" rx="0" />
<line x1="338.50" y1="300.30" x2="344.70" y2="300.30" stroke="#333" stroke-width="0.6" />
<text x="346.80" y="302.60" font-size="5.56" text-anchor="start" font-weight="normal" font-style="normal" fill="#222" stroke="#222" stroke-width="0.15" >KMT2A-r committed (<tspan font-style="italic">n</tspan> = 86)</text>
<text x="437.60" y="123.30" font-size="10.9" text-anchor="start" font-weight="bold" font-style="normal" fill="#000" >F</text>
<text x="475.90" y="131.20" font-size="6.4" text-anchor="middle" font-weight="bold" font-style="italic" fill="#111" >KMT2A-r</text>
<text x="475.80" y="138.70" font-size="6.5" text-anchor="middle" font-weight="bold" font-style="normal" fill="#111" >early</text>
<g transform="translate(461.60,176.50) rotate(0)"><circle r="7.0" fill="#bfe0f0" stroke="#c8e5f3" stroke-width="1.2" stroke-dasharray="1.0 0.6"/><path d="M-4.5,2.2 C-4,5 1.5,5.5 4.5,3 C6.6,1 6.6,-3 4.5,-3.6 C2.5,-4.1 1,-3 1,-1.5 C1,0 0,0.8 -1.8,0.6 C-3.5,0.4 -4.8,0.8 -4.5,2.2 Z" fill="#4a90c5" filter="url(#bl05)"/></g>
<g transform="translate(473.10,180.20) rotate(0)"><circle r="7.0" fill="#bfe0f0" stroke="#c8e5f3" stroke-width="1.2" stroke-dasharray="1.0 0.6"/><path d="M-4.5,2.2 C-4,5 1.5,5.5 4.5,3 C6.6,1 6.6,-3 4.5,-3.6 C2.5,-4.1 1,-3 1,-1.5 C1,0 0,0.8 -1.8,0.6 C-3.5,0.4 -4.8,0.8 -4.5,2.2 Z" fill="#4a90c5" filter="url(#bl05)"/></g>
<g transform="translate(485.40,181.60) rotate(0)"><circle r="7.0" fill="#bfe0f0" stroke="#c8e5f3" stroke-width="1.2" stroke-dasharray="1.0 0.6"/><path d="M-4.5,2.2 C-4,5 1.5,5.5 4.5,3 C6.6,1 6.6,-3 4.5,-3.6 C2.5,-4.1 1,-3 1,-1.5 C1,0 0,0.8 -1.8,0.6 C-3.5,0.4 -4.8,0.8 -4.5,2.2 Z" fill="#4a90c5" filter="url(#bl05)"/></g>
<g transform="translate(457.30,187.40) rotate(0)"><circle r="7.0" fill="#bfe0f0" stroke="#c8e5f3" stroke-width="1.2" stroke-dasharray="1.0 0.6"/><path d="M-4.5,2.2 C-4,5 1.5,5.5 4.5,3 C6.6,1 6.6,-3 4.5,-3.6 C2.5,-4.1 1,-3 1,-1.5 C1,0 0,0.8 -1.8,0.6 C-3.5,0.4 -4.8,0.8 -4.5,2.2 Z" fill="#4a90c5" filter="url(#bl05)"/></g>
<g transform="translate(467.40,193.10) rotate(0)"><circle r="7.0" fill="#bfe0f0" stroke="#c8e5f3" stroke-width="1.2" stroke-dasharray="1.0 0.6"/><path d="M-4.5,2.2 C-4,5 1.5,5.5 4.5,3 C6.6,1 6.6,-3 4.5,-3.6 C2.5,-4.1 1,-3 1,-1.5 C1,0 0,0.8 -1.8,0.6 C-3.5,0.4 -4.8,0.8 -4.5,2.2 Z" fill="#4a90c5" filter="url(#bl05)"/></g>
<g transform="translate(479.60,193.90) rotate(0)"><circle r="7.0" fill="#bfe0f0" stroke="#c8e5f3" stroke-width="1.2" stroke-dasharray="1.0 0.6"/><path d="M-4.5,2.2 C-4,5 1.5,5.5 4.5,3 C6.6,1 6.6,-3 4.5,-3.6 C2.5,-4.1 1,-3 1,-1.5 C1,0 0,0.8 -1.8,0.6 C-3.5,0.4 -4.8,0.8 -4.5,2.2 Z" fill="#4a90c5" filter="url(#bl05)"/></g>
<g transform="translate(489.70,193.10) rotate(0)"><circle r="7.0" fill="#bfe0f0" stroke="#c8e5f3" stroke-width="1.2" stroke-dasharray="1.0 0.6"/><path d="M-4.5,2.2 C-4,5 1.5,5.5 4.5,3 C6.6,1 6.6,-3 4.5,-3.6 C2.5,-4.1 1,-3 1,-1.5 C1,0 0,0.8 -1.8,0.6 C-3.5,0.4 -4.8,0.8 -4.5,2.2 Z" fill="#4a90c5" filter="url(#bl05)"/></g>
<circle cx="481.3" cy="167.5" r="8" fill="#c6c6c6" stroke="#d2d2d2" stroke-width="0.8"/><circle cx="481.8" cy="168.3" r="3.2" fill="#a8a8a8"/>
<circle cx="470.2" cy="164.8" r="8" fill="#c9c9c9" stroke="#d4d4d4" stroke-width="0.8"/><circle cx="469.8" cy="164.8" r="3.2" fill="#a8a8a8"/>
<circle cx="475.3" cy="153.0" r="7.4" fill="#c98ab5"/><circle cx="475.3" cy="153.0" r="6.2" fill="#983a78"/>
<path d="M483,146.5 C485.5,144 490,143.2 492.5,145.8 C494.5,148.5 492,152.2 486.3,152.8" fill="none" stroke="#4d1430" stroke-width="1.9"/><path d="M483,146.5 C485.5,144 490,143.2 492.5,145.8 C494.5,148.5 492,152.2 486.3,152.8" fill="none" stroke="#8a2a55" stroke-width="0.6"/><path d="M481.6,146.3 L485.2,144.2 L484.8,148.6 Z" fill="#4d1430"/>
<text x="476.40" y="229.50" font-size="6.4" text-anchor="middle" font-weight="bold" font-style="italic" fill="#111" >KMT2A-r</text>
<text x="475.60" y="236.80" font-size="6.5" text-anchor="middle" font-weight="bold" font-style="normal" fill="#111" >committed</text>
<path d="M478,246.6 C480.8,243.6 486,242.8 488.3,246 C490,249 487.2,252.8 481.8,253.3" fill="none" stroke="#1f3f5c" stroke-width="2.1"/><path d="M478,246.6 C480.8,243.6 486,242.8 488.3,246 C490,249 487.2,252.8 481.8,253.3" fill="none" stroke="#4a8ec0" stroke-width="0.9"/><path d="M476.6,246.6 L480.2,244.2 L480,248.6 Z" fill="#1f3f5c"/>
<g transform="translate(471.00,256.90) rotate(0)"><circle r="7.3" fill="#bfe0f0" stroke="#c8e5f3" stroke-width="1.2" stroke-dasharray="1.0 0.6"/><path d="M-4.5,2.2 C-4,5 1.5,5.5 4.5,3 C6.6,1 6.6,-3 4.5,-3.6 C2.5,-4.1 1,-3 1,-1.5 C1,0 0,0.8 -1.8,0.6 C-3.5,0.4 -4.8,0.8 -4.5,2.2 Z" fill="#4a90c5" filter="url(#bl05)"/></g>
<g transform="translate(464.70,267.30) rotate(0)"><circle r="7.3" fill="#bfe0f0" stroke="#c8e5f3" stroke-width="1.2" stroke-dasharray="1.0 0.6"/><path d="M-4.5,2.2 C-4,5 1.5,5.5 4.5,3 C6.6,1 6.6,-3 4.5,-3.6 C2.5,-4.1 1,-3 1,-1.5 C1,0 0,0.8 -1.8,0.6 C-3.5,0.4 -4.8,0.8 -4.5,2.2 Z" fill="#4a90c5" filter="url(#bl05)"/></g>
<g transform="translate(479.70,267.30) rotate(0)"><circle r="7.3" fill="#bfe0f0" stroke="#c8e5f3" stroke-width="1.2" stroke-dasharray="1.0 0.6"/><path d="M-4.5,2.2 C-4,5 1.5,5.5 4.5,3 C6.6,1 6.6,-3 4.5,-3.6 C2.5,-4.1 1,-3 1,-1.5 C1,0 0,0.8 -1.8,0.6 C-3.5,0.4 -4.8,0.8 -4.5,2.2 Z" fill="#4a90c5" filter="url(#bl05)"/></g>
<g transform="translate(458.90,277.70) rotate(0)"><circle r="7.3" fill="#bfe0f0" stroke="#c8e5f3" stroke-width="1.2" stroke-dasharray="1.0 0.6"/><path d="M-4.5,2.2 C-4,5 1.5,5.5 4.5,3 C6.6,1 6.6,-3 4.5,-3.6 C2.5,-4.1 1,-3 1,-1.5 C1,0 0,0.8 -1.8,0.6 C-3.5,0.4 -4.8,0.8 -4.5,2.2 Z" fill="#4a90c5" filter="url(#bl05)"/></g>
<g transform="translate(472.80,277.70) rotate(0)"><circle r="7.3" fill="#bfe0f0" stroke="#c8e5f3" stroke-width="1.2" stroke-dasharray="1.0 0.6"/><path d="M-4.5,2.2 C-4,5 1.5,5.5 4.5,3 C6.6,1 6.6,-3 4.5,-3.6 C2.5,-4.1 1,-3 1,-1.5 C1,0 0,0.8 -1.8,0.6 C-3.5,0.4 -4.8,0.8 -4.5,2.2 Z" fill="#4a90c5" filter="url(#bl05)"/></g>
<g transform="translate(487.80,277.70) rotate(0)"><circle r="7.3" fill="#bfe0f0" stroke="#c8e5f3" stroke-width="1.2" stroke-dasharray="1.0 0.6"/><path d="M-4.5,2.2 C-4,5 1.5,5.5 4.5,3 C6.6,1 6.6,-3 4.5,-3.6 C2.5,-4.1 1,-3 1,-1.5 C1,0 0,0.8 -1.8,0.6 C-3.5,0.4 -4.8,0.8 -4.5,2.2 Z" fill="#4a90c5" filter="url(#bl05)"/></g>
<rect x="0.50" y="0.50" width="519.00" height="311.00" fill="none" stroke="#2a2a2a" stroke-width="1.2" rx="0" />
</svg></body></html>
